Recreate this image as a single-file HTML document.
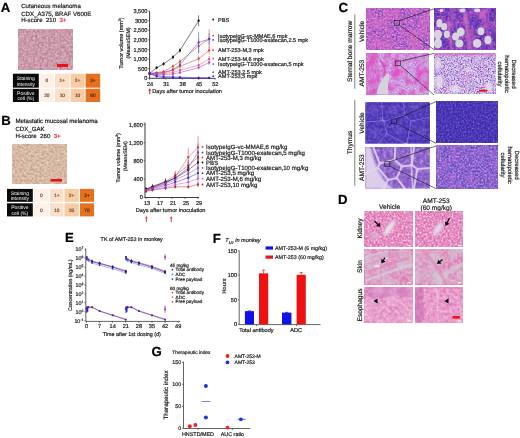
<!DOCTYPE html>
<html><head><meta charset="utf-8"><title>Figure</title>
<style>html,body{margin:0;padding:0;background:#fff;}body{width:520px;height:438px;overflow:hidden;}svg{display:block;}</style>
</head><body>
<svg width="520" height="438" viewBox="0 0 520 438" font-family="'Liberation Sans', Arial, sans-serif" fill="#1c1c1c" text-rendering="geometricPrecision"><defs><filter id="t1" x="0" y="0" width="100%" height="100%" color-interpolation-filters="sRGB"><feTurbulence type="fractalNoise" baseFrequency="0.45" numOctaves="2" seed="3"/><feColorMatrix type="matrix" values="1 0 0 0 0  1 0 0 0 0  1 0 0 0 0  0 0 0 0 1"/><feComponentTransfer><feFuncR type="table" tableValues="0.588 0.725 0.796 0.855 0.918"/><feFuncG type="table" tableValues="0.373 0.502 0.608 0.706 0.816"/><feFuncB type="table" tableValues="0.490 0.588 0.667 0.745 0.831"/></feComponentTransfer></filter><filter id="t2" x="0" y="0" width="100%" height="100%" color-interpolation-filters="sRGB"><feTurbulence type="fractalNoise" baseFrequency="0.45" numOctaves="2" seed="7"/><feColorMatrix type="matrix" values="1 0 0 0 0  1 0 0 0 0  1 0 0 0 0  0 0 0 0 1"/><feComponentTransfer><feFuncR type="table" tableValues="0.647 0.776 0.847 0.902 0.957"/><feFuncG type="table" tableValues="0.490 0.635 0.729 0.808 0.894"/><feFuncB type="table" tableValues="0.412 0.549 0.651 0.745 0.855"/></feComponentTransfer></filter><filter id="t3" x="0" y="0" width="100%" height="100%" color-interpolation-filters="sRGB"><feTurbulence type="fractalNoise" baseFrequency="0.55" numOctaves="2" seed="11"/><feColorMatrix type="matrix" values="1 0 0 0 0  1 0 0 0 0  1 0 0 0 0  0 0 0 0 1"/><feComponentTransfer><feFuncR type="table" tableValues="0.314 0.412 0.588 0.804 0.902 0.961"/><feFuncG type="table" tableValues="0.188 0.243 0.333 0.451 0.647 0.843"/><feFuncB type="table" tableValues="0.659 0.714 0.776 0.804 0.882 0.941"/></feComponentTransfer></filter><filter id="p4" x="0" y="0" width="100%" height="100%" color-interpolation-filters="sRGB"><feTurbulence type="fractalNoise" baseFrequency="0.1" numOctaves="2" seed="31"/><feColorMatrix type="matrix" values="0 0 0 0 0.871  0 0 0 0 0.431  0 0 0 0 0.776  1 0 0 0 0"/><feComponentTransfer><feFuncA type="table" tableValues="0 0 0.05 0.5 0.75 0.85"/></feComponentTransfer></filter><filter id="t5" x="0" y="0" width="100%" height="100%" color-interpolation-filters="sRGB"><feTurbulence type="fractalNoise" baseFrequency="0.5" numOctaves="2" seed="12"/><feColorMatrix type="matrix" values="1 0 0 0 0  1 0 0 0 0  1 0 0 0 0  0 0 0 0 1"/><feComponentTransfer><feFuncR type="table" tableValues="0.204 0.282 0.412 0.686 0.894"/><feFuncG type="table" tableValues="0.110 0.165 0.235 0.353 0.608"/><feFuncB type="table" tableValues="0.580 0.647 0.725 0.784 0.871"/></feComponentTransfer></filter><filter id="p6" x="0" y="0" width="100%" height="100%" color-interpolation-filters="sRGB"><feTurbulence type="fractalNoise" baseFrequency="0.1" numOctaves="2" seed="32"/><feColorMatrix type="matrix" values="0 0 0 0 0.871  0 0 0 0 0.412  0 0 0 0 0.769  1 0 0 0 0"/><feComponentTransfer><feFuncA type="table" tableValues="0 0 0 0.35 0.8 0.9"/></feComponentTransfer></filter><clipPath id="c7"><rect x="434.00" y="8.50" width="61.30" height="40.90"/></clipPath><filter id="t8" x="0" y="0" width="100%" height="100%" color-interpolation-filters="sRGB"><feTurbulence type="fractalNoise" baseFrequency="0.6" numOctaves="2" seed="13"/><feColorMatrix type="matrix" values="1 0 0 0 0  1 0 0 0 0  1 0 0 0 0  0 0 0 0 1"/><feComponentTransfer><feFuncR type="table" tableValues="0.588 0.725 0.804 0.871 0.941"/><feFuncG type="table" tableValues="0.373 0.510 0.627 0.737 0.855"/><feFuncB type="table" tableValues="0.765 0.843 0.882 0.918 0.957"/></feComponentTransfer></filter><filter id="p9" x="0" y="0" width="100%" height="100%" color-interpolation-filters="sRGB"><feTurbulence type="fractalNoise" baseFrequency="0.13" numOctaves="3" seed="33"/><feColorMatrix type="matrix" values="0 0 0 0 0.886  0 0 0 0 0.275  0 0 0 0 0.753  1 0 0 0 0"/><feComponentTransfer><feFuncA type="table" tableValues="0 0 0.0 0.5 0.85 0.9"/></feComponentTransfer></filter><clipPath id="c10"><rect x="366.20" y="53.10" width="62.80" height="41.30"/></clipPath><filter id="t11" x="0" y="0" width="100%" height="100%" color-interpolation-filters="sRGB"><feTurbulence type="fractalNoise" baseFrequency="0.7" numOctaves="2" seed="14"/><feColorMatrix type="matrix" values="1 0 0 0 0  1 0 0 0 0  1 0 0 0 0  0 0 0 0 1"/><feComponentTransfer><feFuncR type="table" tableValues="0.314 0.431 0.686 0.871 0.941 0.973"/><feFuncG type="table" tableValues="0.165 0.259 0.549 0.804 0.910 0.961"/><feFuncB type="table" tableValues="0.608 0.706 0.855 0.933 0.965 0.980"/></feComponentTransfer></filter><filter id="p12" x="0" y="0" width="100%" height="100%" color-interpolation-filters="sRGB"><feTurbulence type="fractalNoise" baseFrequency="0.1" numOctaves="2" seed="34"/><feColorMatrix type="matrix" values="0 0 0 0 0.843  0 0 0 0 0.471  0 0 0 0 0.804  1 0 0 0 0"/><feComponentTransfer><feFuncA type="table" tableValues="0 0 0 0.25 0.5"/></feComponentTransfer></filter><clipPath id="c13"><rect x="434.00" y="53.00" width="61.30" height="40.80"/></clipPath><filter id="bl1" x="-20%" y="-20%" width="140%" height="140%"><feGaussianBlur stdDeviation="0.8"/></filter><filter id="bl2" x="-50%" y="-50%" width="200%" height="200%"><feGaussianBlur stdDeviation="2.2"/></filter><clipPath id="c14"><rect x="365.40" y="102.30" width="64.40" height="41.30"/></clipPath><clipPath id="c15"><path d="M323.3,192.2 L323.3,192.4 L323.3,192.7 L323.4,192.9 L323.5,193.2 L323.6,193.4 L323.7,193.6 L323.9,193.8 L324.0,194.0 L324.2,194.1 L324.4,194.3 L324.6,194.4 L324.8,194.5 L325.1,194.6 L325.3,194.7 L325.6,194.7 L325.8,194.7 L332.6,194.7 L332.8,194.7 L333.0,194.7 L333.3,194.6 L333.5,194.5 L333.7,194.4 L333.9,194.3 L334.1,194.2 L334.3,194.0 L334.5,193.8 L385.4,134.4 L385.6,134.2 L385.7,134.0 L385.8,133.8 L385.9,133.5 L386.0,133.3 L386.0,133.1 L386.0,132.8 L386.0,132.6 L386.0,132.4 L386.0,132.1 L383.7,123.0 L383.6,122.8 L383.5,122.6 L383.4,122.3 L383.3,122.1 L383.1,121.9 L382.9,121.8 L382.7,121.6 L382.5,121.5 L382.3,121.4 L382.1,121.3 L381.8,121.2 L381.6,121.2 L381.3,121.1 L381.1,121.2 L325.6,125.6 L325.4,125.6 L325.1,125.7 L324.9,125.8 L324.7,125.9 L324.4,126.0 L324.2,126.1 L324.0,126.3 L323.9,126.5 L323.7,126.7 L323.6,126.9 L323.5,127.1 L323.4,127.4 L323.3,127.6 L323.3,127.8 L323.3,128.1 L323.3,192.2Z M325.8,58.3 L325.6,58.3 L325.3,58.3 L325.1,58.4 L324.8,58.5 L324.6,58.6 L324.4,58.7 L324.2,58.9 L324.0,59.0 L323.9,59.2 L323.7,59.4 L323.6,59.6 L323.5,59.8 L323.4,60.1 L323.3,60.3 L323.3,60.6 L323.3,60.8 L323.3,122.5 L323.3,122.7 L323.3,122.9 L323.4,123.2 L323.5,123.4 L323.6,123.6 L323.7,123.8 L323.9,124.0 L324.0,124.2 L324.2,124.4 L324.4,124.5 L324.6,124.7 L324.8,124.8 L325.0,124.8 L325.3,124.9 L325.5,125.0 L325.8,125.0 L326.0,125.0 L379.9,120.6 L380.1,120.6 L380.4,120.6 L380.6,120.5 L380.8,120.4 L381.0,120.3 L381.2,120.1 L381.4,120.0 L381.6,119.8 L381.7,119.6 L381.8,119.4 L382.0,119.2 L382.0,119.0 L382.1,118.7 L382.2,118.5 L382.2,118.3 L382.2,118.0 L379.3,60.7 L379.3,60.4 L379.2,60.2 L379.2,59.9 L379.1,59.7 L378.9,59.5 L378.8,59.3 L378.6,59.1 L378.4,58.9 L378.2,58.7 L378.0,58.6 L377.8,58.5 L377.6,58.4 L377.3,58.4 L377.1,58.3 L376.8,58.3 L325.8,58.3Z M382.4,58.3 L382.2,58.3 L381.9,58.3 L381.7,58.4 L381.5,58.5 L381.3,58.6 L381.1,58.7 L380.9,58.8 L380.7,59.0 L380.5,59.2 L380.4,59.4 L380.3,59.6 L380.1,59.8 L380.1,60.0 L380.0,60.2 L379.9,60.4 L379.9,60.7 L379.9,60.9 L382.8,118.1 L382.8,118.4 L382.9,118.6 L382.9,118.9 L383.0,119.1 L383.2,119.3 L383.3,119.5 L383.5,119.7 L383.6,119.9 L383.8,120.0 L384.0,120.2 L384.3,120.3 L384.5,120.4 L384.8,120.4 L385.0,120.5 L385.3,120.5 L385.5,120.5 L385.8,120.4 L386.0,120.4 L402.2,115.5 L402.4,115.5 L402.6,115.3 L402.8,115.2 L403.0,115.1 L403.2,114.9 L403.4,114.7 L403.5,114.5 L403.7,114.3 L403.8,114.0 L403.8,113.8 L403.9,113.5 L403.9,113.3 L403.9,113.0 L401.7,60.7 L401.7,60.5 L401.7,60.2 L401.6,60.0 L401.5,59.8 L401.4,59.6 L401.3,59.4 L401.1,59.2 L401.0,59.0 L400.8,58.8 L400.6,58.7 L400.4,58.6 L400.2,58.5 L400.0,58.4 L399.7,58.3 L399.5,58.3 L399.3,58.3 L382.4,58.3Z M424.0,194.7 L424.3,194.7 L424.5,194.7 L424.8,194.6 L425.0,194.5 L425.2,194.4 L425.4,194.3 L425.6,194.1 L425.8,194.0 L426.0,193.8 L426.1,193.6 L426.2,193.4 L426.3,193.1 L426.4,192.9 L426.5,192.7 L426.5,192.4 L426.5,192.2 L426.5,191.9 L426.5,191.7 L426.4,191.5 L426.3,191.2 L407.0,145.7 L406.9,145.5 L406.8,145.3 L406.7,145.1 L406.5,145.0 L406.3,144.8 L406.1,144.7 L405.9,144.5 L388.5,134.8 L388.2,134.7 L388.0,134.6 L387.8,134.6 L387.5,134.5 L387.3,134.5 L387.1,134.5 L386.8,134.5 L386.6,134.6 L386.3,134.7 L386.1,134.8 L385.9,134.9 L385.7,135.0 L385.5,135.2 L385.4,135.4 L338.0,190.6 L337.9,190.8 L337.8,191.0 L337.7,191.2 L337.6,191.4 L337.5,191.7 L337.5,191.9 L337.4,192.2 L337.5,192.4 L337.5,192.7 L337.5,192.9 L337.6,193.1 L337.7,193.4 L337.9,193.6 L338.0,193.8 L338.2,194.0 L338.3,194.1 L338.5,194.3 L338.8,194.4 L339.0,194.5 L339.2,194.6 L339.5,194.7 L339.7,194.7 L339.9,194.7 L424.0,194.7Z M403.6,142.6 L403.9,142.7 L404.1,142.8 L404.3,142.8 L404.6,142.9 L404.8,142.9 L405.1,142.9 L405.3,142.8 L405.6,142.8 L405.8,142.7 L406.0,142.6 L406.3,142.5 L406.5,142.3 L406.6,142.1 L406.8,141.9 L407.0,141.7 L407.1,141.5 L407.2,141.3 L407.3,141.1 L407.3,140.8 L410.5,122.5 L410.5,122.3 L410.5,122.0 L410.5,121.8 L410.5,121.6 L410.4,121.3 L410.3,121.1 L410.2,120.9 L410.1,120.7 L410.0,120.5 L409.8,120.3 L409.7,120.2 L405.3,116.4 L405.1,116.3 L404.9,116.1 L404.7,116.0 L404.4,115.9 L404.2,115.9 L403.9,115.8 L403.7,115.8 L403.4,115.8 L403.2,115.9 L402.9,115.9 L386.3,120.9 L386.0,121.0 L385.8,121.1 L385.6,121.2 L385.4,121.4 L385.2,121.5 L385.1,121.7 L384.9,121.9 L384.8,122.1 L384.7,122.3 L384.6,122.5 L384.5,122.8 L384.5,123.0 L384.5,123.2 L384.5,123.5 L384.5,123.7 L384.5,123.9 L386.6,132.2 L386.7,132.4 L386.8,132.7 L386.9,132.9 L387.1,133.1 L387.2,133.3 L387.4,133.5 L387.6,133.6 L387.8,133.8 L403.6,142.6Z M467.2,194.7 L467.4,194.7 L467.7,194.7 L467.9,194.6 L468.2,194.5 L468.4,194.4 L468.6,194.3 L468.8,194.1 L469.0,194.0 L469.1,193.8 L469.3,193.6 L469.4,193.4 L469.5,193.2 L469.6,192.9 L469.7,192.7 L469.7,192.4 L469.7,192.2 L469.7,112.6 L469.7,112.4 L469.7,112.1 L469.6,111.9 L469.5,111.7 L469.4,111.4 L469.3,111.2 L469.1,111.0 L469.0,110.8 L468.8,110.7 L468.6,110.5 L468.4,110.4 L468.2,110.3 L467.9,110.2 L467.7,110.2 L467.4,110.1 L467.2,110.1 L467.0,110.1 L466.7,110.2 L413.0,120.9 L412.8,121.0 L412.5,121.1 L412.3,121.2 L412.1,121.3 L411.9,121.4 L411.7,121.6 L411.5,121.8 L411.4,122.0 L411.3,122.2 L411.2,122.4 L411.1,122.7 L411.0,122.9 L407.4,144.0 L407.3,144.2 L407.3,144.5 L407.4,144.7 L407.4,144.9 L407.5,145.2 L407.5,145.4 L427.8,193.2 L427.9,193.4 L428.0,193.6 L428.2,193.8 L428.4,194.0 L428.5,194.1 L428.7,194.3 L428.9,194.4 L429.2,194.5 L429.4,194.6 L429.6,194.7 L429.9,194.7 L430.1,194.7 L467.2,194.7Z M469.7,60.8 L469.7,60.6 L469.7,60.3 L469.6,60.1 L469.5,59.8 L469.4,59.6 L469.3,59.4 L469.1,59.2 L469.0,59.0 L468.8,58.9 L468.6,58.7 L468.4,58.6 L468.2,58.5 L467.9,58.4 L467.7,58.3 L467.4,58.3 L467.2,58.3 L404.9,58.3 L404.6,58.3 L404.4,58.4 L404.1,58.4 L403.9,58.5 L403.6,58.6 L403.4,58.7 L403.2,58.9 L403.1,59.1 L402.9,59.3 L402.7,59.5 L402.6,59.7 L402.5,59.9 L402.4,60.2 L402.4,60.4 L402.4,60.7 L402.4,60.9 L404.6,114.0 L404.6,114.2 L404.6,114.5 L404.7,114.7 L404.8,115.0 L404.9,115.2 L405.1,115.4 L405.3,115.6 L405.4,115.8 L410.2,119.9 L410.4,120.0 L410.6,120.2 L410.9,120.3 L411.1,120.4 L411.3,120.4 L411.6,120.5 L411.8,120.5 L412.1,120.5 L412.3,120.4 L467.7,109.4 L467.9,109.3 L468.2,109.2 L468.4,109.1 L468.6,109.0 L468.8,108.8 L469.0,108.7 L469.1,108.5 L469.3,108.3 L469.4,108.1 L469.5,107.9 L469.6,107.6 L469.7,107.4 L469.7,107.1 L469.7,106.9 L469.7,60.8Z"/></clipPath><filter id="t16" x="0" y="0" width="100%" height="100%" color-interpolation-filters="sRGB"><feTurbulence type="fractalNoise" baseFrequency="0.35" numOctaves="2" seed="15"/><feColorMatrix type="matrix" values="1 0 0 0 0  1 0 0 0 0  1 0 0 0 0  0 0 0 0 1"/><feComponentTransfer><feFuncR type="table" tableValues="0.204 0.267 0.329 0.416 0.612"/><feFuncG type="table" tableValues="0.133 0.184 0.235 0.322 0.533"/><feFuncB type="table" tableValues="0.620 0.678 0.733 0.784 0.871"/></feComponentTransfer></filter><clipPath id="c17"><rect x="365.40" y="102.30" width="64.40" height="41.30"/></clipPath><filter id="t18" x="0" y="0" width="100%" height="100%" color-interpolation-filters="sRGB"><feTurbulence type="fractalNoise" baseFrequency="0.6" numOctaves="2" seed="16"/><feColorMatrix type="matrix" values="1 0 0 0 0  1 0 0 0 0  1 0 0 0 0  0 0 0 0 1"/><feComponentTransfer><feFuncR type="table" tableValues="0.165 0.227 0.298 0.408 0.627"/><feFuncG type="table" tableValues="0.102 0.149 0.212 0.329 0.549"/><feFuncB type="table" tableValues="0.580 0.651 0.714 0.784 0.894"/></feComponentTransfer></filter><clipPath id="c19"><rect x="365.40" y="147.00" width="64.40" height="41.60"/></clipPath><clipPath id="c20"><path d="M315.5,98.0 L315.3,98.0 L315.0,98.0 L314.8,98.1 L314.5,98.2 L314.3,98.3 L314.1,98.4 L313.9,98.6 L313.7,98.7 L313.6,98.9 L313.4,99.1 L313.3,99.3 L313.2,99.5 L313.1,99.8 L313.0,100.0 L313.0,100.3 L313.0,100.5 L313.0,194.8 L313.0,195.1 L313.0,195.3 L313.1,195.6 L313.2,195.8 L313.3,196.0 L313.4,196.2 L313.6,196.4 L313.7,196.6 L313.9,196.8 L314.1,196.9 L314.3,197.0 L314.5,197.1 L314.7,197.2 L315.0,197.3 L315.2,197.3 L315.4,197.3 L315.7,197.3 L315.9,197.3 L316.2,197.2 L316.4,197.2 L316.6,197.1 L376.3,167.2 L376.5,167.1 L376.7,167.0 L376.9,166.8 L377.0,166.7 L377.2,166.5 L377.3,166.3 L377.4,166.0 L378.2,164.4 L378.3,164.1 L378.3,163.9 L378.4,163.7 L378.4,163.4 L378.4,163.2 L378.4,162.9 L378.3,162.7 L378.2,162.4 L353.8,99.6 L353.7,99.4 L353.6,99.1 L353.4,98.9 L353.3,98.8 L353.1,98.6 L352.9,98.4 L352.7,98.3 L352.4,98.2 L352.2,98.1 L352.0,98.0 L351.7,98.0 L351.5,98.0 L315.5,98.0Z M359.0,98.0 L358.7,98.0 L358.5,98.0 L358.3,98.1 L358.0,98.2 L357.8,98.3 L357.6,98.4 L357.4,98.6 L357.2,98.7 L357.1,98.9 L356.9,99.1 L356.8,99.3 L356.7,99.5 L356.6,99.7 L356.5,100.0 L356.5,100.2 L356.5,100.5 L356.5,100.7 L356.5,100.9 L356.6,101.2 L356.6,101.4 L379.5,160.3 L379.6,160.5 L379.7,160.7 L379.9,160.9 L380.0,161.1 L380.2,161.2 L380.4,161.4 L380.6,161.5 L380.8,161.6 L381.0,161.7 L381.3,161.8 L381.5,161.8 L381.7,161.8 L382.0,161.8 L382.2,161.8 L382.4,161.8 L391.9,159.6 L392.1,159.5 L392.3,159.4 L392.6,159.3 L392.8,159.2 L393.0,159.0 L393.1,158.8 L393.3,158.6 L393.4,158.4 L393.5,158.2 L393.6,158.0 L393.7,157.8 L393.8,157.5 L393.8,157.3 L396.9,100.6 L396.9,100.4 L396.9,100.2 L396.9,99.9 L396.8,99.7 L396.7,99.5 L396.6,99.3 L396.5,99.1 L396.3,98.9 L396.2,98.7 L396.0,98.5 L395.8,98.4 L395.6,98.3 L395.4,98.2 L395.1,98.1 L394.9,98.0 L394.7,98.0 L394.4,98.0 L359.0,98.0Z M313.0,240.5 L313.0,240.7 L313.0,241.0 L313.1,241.2 L313.2,241.5 L313.3,241.7 L313.4,241.9 L313.6,242.1 L313.7,242.3 L313.9,242.4 L314.1,242.6 L314.3,242.7 L314.5,242.8 L314.8,242.9 L315.0,243.0 L315.3,243.0 L315.5,243.0 L353.8,243.0 L354.1,243.0 L354.3,242.9 L354.6,242.9 L354.8,242.8 L355.0,242.7 L355.3,242.6 L355.5,242.4 L355.6,242.2 L355.8,242.0 L355.9,241.8 L356.1,241.6 L386.1,181.5 L386.2,181.3 L386.3,181.0 L386.4,180.8 L386.4,180.6 L386.4,180.3 L386.4,180.1 L386.4,179.8 L386.3,179.6 L386.2,179.4 L386.1,179.2 L386.0,178.9 L385.8,178.8 L378.8,170.4 L378.7,170.2 L378.5,170.0 L378.3,169.9 L378.1,169.8 L377.9,169.7 L377.7,169.6 L377.4,169.5 L377.2,169.5 L376.9,169.5 L376.7,169.5 L376.5,169.5 L376.2,169.6 L376.0,169.6 L375.8,169.7 L314.4,200.4 L314.2,200.6 L314.0,200.7 L313.8,200.9 L313.6,201.0 L313.4,201.2 L313.3,201.5 L313.2,201.7 L313.1,201.9 L313.1,202.2 L313.0,202.4 L313.0,202.7 L313.0,240.5Z M395.3,161.9 L395.2,161.7 L395.0,161.6 L394.7,161.5 L394.5,161.4 L394.3,161.3 L394.1,161.3 L393.8,161.3 L393.6,161.3 L393.4,161.3 L393.1,161.3 L381.6,164.0 L381.4,164.1 L381.1,164.2 L380.9,164.3 L380.7,164.5 L380.5,164.6 L380.3,164.8 L380.2,165.0 L380.0,165.2 L379.9,165.4 L379.6,166.0 L379.5,166.2 L379.5,166.5 L379.4,166.7 L379.4,167.0 L379.4,167.2 L379.5,167.5 L379.5,167.7 L379.6,168.0 L379.7,168.2 L379.8,168.4 L380.0,168.6 L387.5,177.6 L387.6,177.8 L387.8,177.9 L388.0,178.1 L388.2,178.2 L388.5,178.3 L388.7,178.4 L388.9,178.5 L389.2,178.5 L389.4,178.5 L389.7,178.5 L389.9,178.4 L394.7,177.4 L395.0,177.3 L395.2,177.2 L395.4,177.1 L395.7,177.0 L395.9,176.8 L396.0,176.6 L396.2,176.4 L396.3,176.2 L396.5,176.0 L400.0,168.4 L400.1,168.2 L400.2,167.9 L400.2,167.7 L400.3,167.4 L400.3,167.2 L400.2,166.9 L400.2,166.7 L400.1,166.5 L400.0,166.2 L399.9,166.0 L399.8,165.8 L399.6,165.6 L399.4,165.4 L395.3,161.9Z M418.5,243.0 L418.7,243.0 L419.0,243.0 L419.2,242.9 L419.4,242.8 L419.7,242.7 L419.9,242.6 L420.1,242.4 L420.3,242.2 L420.4,242.1 L420.6,241.9 L420.7,241.6 L420.8,241.4 L420.9,241.2 L420.9,240.9 L421.0,240.7 L421.0,240.4 L421.0,240.2 L420.9,239.9 L411.4,199.2 L411.3,198.9 L411.2,198.7 L411.1,198.4 L410.9,198.2 L397.2,180.3 L397.0,180.2 L396.9,180.0 L396.7,179.9 L396.5,179.7 L396.3,179.6 L396.1,179.5 L395.8,179.5 L395.6,179.4 L395.4,179.4 L395.1,179.4 L394.9,179.4 L394.7,179.4 L389.9,180.5 L389.7,180.6 L389.4,180.6 L389.2,180.8 L389.0,180.9 L388.8,181.0 L388.6,181.2 L388.5,181.4 L388.3,181.6 L388.2,181.8 L359.4,239.4 L359.3,239.6 L359.3,239.8 L359.2,240.1 L359.2,240.3 L359.2,240.6 L359.2,240.8 L359.2,241.0 L359.3,241.3 L359.4,241.5 L359.5,241.7 L359.6,241.9 L359.7,242.1 L359.9,242.3 L360.1,242.4 L360.3,242.6 L360.5,242.7 L360.7,242.8 L360.9,242.9 L361.2,243.0 L361.4,243.0 L361.7,243.0 L418.5,243.0Z M404.1,167.2 L403.9,167.2 L403.6,167.3 L403.4,167.4 L403.2,167.5 L402.9,167.6 L402.7,167.8 L402.6,168.0 L402.4,168.2 L402.3,168.4 L402.1,168.6 L398.4,176.5 L398.4,176.7 L398.3,176.9 L398.2,177.2 L398.2,177.4 L398.2,177.7 L398.2,177.9 L398.3,178.2 L398.4,178.4 L398.5,178.6 L398.6,178.8 L398.7,179.1 L408.2,191.3 L408.3,191.5 L408.5,191.7 L408.7,191.8 L408.9,191.9 L409.1,192.0 L409.3,192.1 L409.5,192.2 L409.8,192.3 L410.0,192.3 L410.3,192.3 L410.5,192.3 L410.7,192.2 L411.0,192.1 L411.2,192.0 L411.4,191.9 L411.6,191.8 L411.8,191.7 L412.0,191.5 L412.1,191.3 L412.2,191.1 L412.4,190.9 L412.5,190.7 L412.5,190.4 L412.6,190.2 L416.0,171.0 L416.0,170.8 L416.0,170.5 L416.0,170.3 L416.0,170.1 L415.9,169.8 L415.8,169.6 L415.7,169.4 L415.6,169.2 L415.5,169.0 L415.3,168.8 L415.1,168.6 L414.9,168.5 L412.4,166.8 L412.2,166.6 L411.9,166.5 L411.7,166.4 L411.4,166.4 L411.2,166.3 L410.9,166.3 L410.7,166.4 L404.1,167.2Z M401.4,98.0 L401.2,98.0 L400.9,98.1 L400.7,98.1 L400.5,98.2 L400.2,98.3 L400.0,98.4 L399.8,98.6 L399.6,98.8 L399.5,99.0 L399.3,99.2 L399.2,99.4 L399.1,99.6 L399.0,99.9 L399.0,100.1 L399.0,100.4 L395.7,158.3 L395.7,158.5 L395.8,158.8 L395.8,159.0 L395.9,159.3 L396.0,159.5 L396.1,159.7 L396.2,159.9 L396.4,160.1 L396.6,160.3 L401.5,164.6 L401.7,164.8 L401.9,164.9 L402.1,165.0 L402.3,165.1 L402.6,165.2 L402.8,165.2 L403.0,165.3 L403.3,165.3 L403.5,165.2 L409.0,164.6 L409.2,164.5 L409.5,164.5 L409.7,164.4 L409.9,164.3 L410.1,164.1 L410.3,164.0 L410.5,163.8 L410.6,163.7 L410.8,163.5 L410.9,163.3 L411.0,163.0 L411.1,162.8 L411.1,162.6 L411.2,162.3 L418.0,100.8 L418.0,100.5 L418.0,100.3 L418.0,100.0 L417.9,99.8 L417.9,99.6 L417.7,99.3 L417.6,99.1 L417.5,98.9 L417.3,98.7 L417.1,98.6 L416.9,98.4 L416.7,98.3 L416.5,98.2 L416.3,98.1 L416.0,98.0 L415.8,98.0 L415.5,98.0 L401.4,98.0Z M476.5,243.0 L476.7,243.0 L477.0,243.0 L477.2,242.9 L477.5,242.8 L477.7,242.7 L477.9,242.6 L478.1,242.4 L478.3,242.3 L478.4,242.1 L478.6,241.9 L478.7,241.7 L478.8,241.5 L478.9,241.2 L479.0,241.0 L479.0,240.7 L479.0,240.5 L479.0,167.7 L479.0,167.5 L479.0,167.2 L478.9,167.0 L478.8,166.8 L478.7,166.6 L478.6,166.4 L478.4,166.2 L478.3,166.0 L478.1,165.8 L477.9,165.7 L477.7,165.5 L477.5,165.4 L477.3,165.3 L477.0,165.3 L476.8,165.2 L476.5,165.2 L476.3,165.2 L420.1,169.7 L419.9,169.8 L419.6,169.8 L419.4,169.9 L419.2,170.0 L419.0,170.1 L418.8,170.3 L418.6,170.5 L418.4,170.7 L418.2,170.9 L418.1,171.1 L418.0,171.3 L417.9,171.5 L417.9,171.8 L413.3,197.7 L413.3,197.9 L413.3,198.2 L413.3,198.4 L413.3,198.7 L423.2,241.1 L423.3,241.3 L423.4,241.5 L423.5,241.7 L423.6,241.9 L423.8,242.1 L423.9,242.3 L424.1,242.5 L424.3,242.6 L424.5,242.7 L424.7,242.8 L425.0,242.9 L425.2,243.0 L425.4,243.0 L425.7,243.0 L476.5,243.0Z M479.0,100.5 L479.0,100.3 L479.0,100.0 L478.9,99.8 L478.8,99.5 L478.7,99.3 L478.6,99.1 L478.4,98.9 L478.3,98.7 L478.1,98.6 L477.9,98.4 L477.7,98.3 L477.5,98.2 L477.2,98.1 L477.0,98.0 L476.7,98.0 L476.5,98.0 L422.6,98.0 L422.3,98.0 L422.1,98.0 L421.9,98.1 L421.6,98.2 L421.4,98.3 L421.2,98.4 L421.0,98.6 L420.8,98.7 L420.7,98.9 L420.5,99.1 L420.4,99.3 L420.3,99.5 L420.2,99.7 L420.1,100.0 L420.1,100.2 L413.1,163.2 L413.1,163.5 L413.1,163.7 L413.1,164.0 L413.2,164.2 L413.3,164.4 L413.4,164.7 L413.5,164.9 L413.6,165.1 L413.8,165.2 L414.0,165.4 L414.2,165.6 L416.9,167.4 L417.1,167.6 L417.3,167.7 L417.6,167.7 L417.8,167.8 L418.0,167.8 L418.3,167.9 L418.5,167.9 L476.7,163.2 L476.9,163.2 L477.2,163.1 L477.4,163.0 L477.6,162.9 L477.9,162.8 L478.1,162.7 L478.3,162.5 L478.4,162.3 L478.6,162.1 L478.7,161.9 L478.8,161.7 L478.9,161.4 L479.0,161.2 L479.0,161.0 L479.0,160.7 L479.0,100.5Z"/></clipPath><filter id="t21" x="0" y="0" width="100%" height="100%" color-interpolation-filters="sRGB"><feTurbulence type="fractalNoise" baseFrequency="0.3" numOctaves="2" seed="17"/><feColorMatrix type="matrix" values="1 0 0 0 0  1 0 0 0 0  1 0 0 0 0  0 0 0 0 1"/><feComponentTransfer><feFuncR type="table" tableValues="0.392 0.486 0.557 0.675 0.816"/><feFuncG type="table" tableValues="0.235 0.329 0.400 0.518 0.714"/><feFuncB type="table" tableValues="0.690 0.745 0.792 0.847 0.910"/></feComponentTransfer></filter><clipPath id="c22"><rect x="365.40" y="147.00" width="64.40" height="41.60"/></clipPath><filter id="t23" x="0" y="0" width="100%" height="100%" color-interpolation-filters="sRGB"><feTurbulence type="fractalNoise" baseFrequency="0.55" numOctaves="2" seed="18"/><feColorMatrix type="matrix" values="1 0 0 0 0  1 0 0 0 0  1 0 0 0 0  0 0 0 0 1"/><feComponentTransfer><feFuncR type="table" tableValues="0.267 0.376 0.518 0.714 0.894"/><feFuncG type="table" tableValues="0.157 0.251 0.384 0.580 0.800"/><feFuncB type="table" tableValues="0.647 0.725 0.804 0.886 0.949"/></feComponentTransfer></filter><filter id="p24" x="0" y="0" width="100%" height="100%" color-interpolation-filters="sRGB"><feTurbulence type="fractalNoise" baseFrequency="0.12" numOctaves="2" seed="37"/><feColorMatrix type="matrix" values="0 0 0 0 0.784  0 0 0 0 0.471  0 0 0 0 0.843  1 0 0 0 0"/><feComponentTransfer><feFuncA type="table" tableValues="0 0 0.1 0.4 0.5"/></feComponentTransfer></filter><filter id="t25" x="0" y="0" width="100%" height="100%" color-interpolation-filters="sRGB"><feTurbulence type="fractalNoise" baseFrequency="0.5" numOctaves="2" seed="21"/><feColorMatrix type="matrix" values="1 0 0 0 0  1 0 0 0 0  1 0 0 0 0  0 0 0 0 1"/><feComponentTransfer><feFuncR type="table" tableValues="0.769 0.831 0.878 0.925 0.973 0.988"/><feFuncG type="table" tableValues="0.306 0.392 0.486 0.627 0.843 0.941"/><feFuncB type="table" tableValues="0.612 0.667 0.722 0.800 0.922 0.973"/></feComponentTransfer></filter><clipPath id="c26"><rect x="364.70" y="211.90" width="47.90" height="35.00"/></clipPath><filter id="t27" x="0" y="0" width="100%" height="100%" color-interpolation-filters="sRGB"><feTurbulence type="fractalNoise" baseFrequency="0.5" numOctaves="2" seed="22"/><feColorMatrix type="matrix" values="1 0 0 0 0  1 0 0 0 0  1 0 0 0 0  0 0 0 0 1"/><feComponentTransfer><feFuncR type="table" tableValues="0.769 0.831 0.878 0.925 0.973 0.988"/><feFuncG type="table" tableValues="0.306 0.392 0.486 0.627 0.843 0.941"/><feFuncB type="table" tableValues="0.612 0.667 0.722 0.800 0.922 0.973"/></feComponentTransfer></filter><clipPath id="c28"><rect x="415.00" y="211.90" width="47.90" height="35.00"/></clipPath><filter id="t29" x="0" y="0" width="100%" height="100%" color-interpolation-filters="sRGB"><feTurbulence type="fractalNoise" baseFrequency="0.35" numOctaves="2" seed="23"/><feColorMatrix type="matrix" values="1 0 0 0 0  1 0 0 0 0  1 0 0 0 0  0 0 0 0 1"/><feComponentTransfer><feFuncR type="table" tableValues="0.784 0.847 0.886 0.918 0.957"/><feFuncG type="table" tableValues="0.333 0.439 0.541 0.659 0.804"/><feFuncB type="table" tableValues="0.627 0.690 0.745 0.808 0.886"/></feComponentTransfer></filter><clipPath id="c30"><rect x="364.70" y="249.00" width="47.90" height="35.10"/></clipPath><filter id="p31" x="0" y="0" width="100%" height="100%" color-interpolation-filters="sRGB"><feTurbulence type="fractalNoise" baseFrequency="0.07" numOctaves="2" seed="41"/><feColorMatrix type="matrix" values="0 0 0 0 0.824  0 0 0 0 0.792  0 0 0 0 0.831  1 0 0 0 0"/><feComponentTransfer><feFuncA type="table" tableValues="0 0.1 0.45 0.8 0.9"/></feComponentTransfer></filter><filter id="t32" x="0" y="0" width="100%" height="100%" color-interpolation-filters="sRGB"><feTurbulence type="fractalNoise" baseFrequency="0.35" numOctaves="2" seed="24"/><feColorMatrix type="matrix" values="1 0 0 0 0  1 0 0 0 0  1 0 0 0 0  0 0 0 0 1"/><feComponentTransfer><feFuncR type="table" tableValues="0.784 0.847 0.886 0.918 0.957"/><feFuncG type="table" tableValues="0.333 0.439 0.541 0.659 0.804"/><feFuncB type="table" tableValues="0.627 0.690 0.745 0.808 0.886"/></feComponentTransfer></filter><clipPath id="c33"><rect x="415.00" y="249.00" width="47.90" height="35.10"/></clipPath><filter id="p34" x="0" y="0" width="100%" height="100%" color-interpolation-filters="sRGB"><feTurbulence type="fractalNoise" baseFrequency="0.07" numOctaves="2" seed="44"/><feColorMatrix type="matrix" values="0 0 0 0 0.824  0 0 0 0 0.792  0 0 0 0 0.831  1 0 0 0 0"/><feComponentTransfer><feFuncA type="table" tableValues="0 0.1 0.45 0.8 0.9"/></feComponentTransfer></filter><filter id="t35" x="0" y="0" width="100%" height="100%" color-interpolation-filters="sRGB"><feTurbulence type="fractalNoise" baseFrequency="0.3" numOctaves="2" seed="25"/><feColorMatrix type="matrix" values="1 0 0 0 0  1 0 0 0 0  1 0 0 0 0  0 0 0 0 1"/><feComponentTransfer><feFuncR type="table" tableValues="0.816 0.871 0.910 0.941 0.973"/><feFuncG type="table" tableValues="0.392 0.510 0.612 0.722 0.843"/><feFuncB type="table" tableValues="0.675 0.737 0.796 0.851 0.914"/></feComponentTransfer></filter><clipPath id="c36"><rect x="364.70" y="287.20" width="47.90" height="35.10"/></clipPath><filter id="p37" x="0" y="0" width="100%" height="100%" color-interpolation-filters="sRGB"><feTurbulence type="fractalNoise" baseFrequency="0.05" numOctaves="2" seed="43"/><feColorMatrix type="matrix" values="0 0 0 0 0.925  0 0 0 0 0.804  0 0 0 0 0.894  1 0 0 0 0"/><feComponentTransfer><feFuncA type="table" tableValues="0 0 0.1 0.5 0.7"/></feComponentTransfer></filter><filter id="t38" x="0" y="0" width="100%" height="100%" color-interpolation-filters="sRGB"><feTurbulence type="fractalNoise" baseFrequency="0.3" numOctaves="2" seed="26"/><feColorMatrix type="matrix" values="1 0 0 0 0  1 0 0 0 0  1 0 0 0 0  0 0 0 0 1"/><feComponentTransfer><feFuncR type="table" tableValues="0.816 0.871 0.910 0.941 0.973"/><feFuncG type="table" tableValues="0.392 0.510 0.612 0.722 0.843"/><feFuncB type="table" tableValues="0.675 0.737 0.796 0.851 0.914"/></feComponentTransfer></filter><clipPath id="c39"><rect x="415.00" y="287.20" width="47.90" height="35.10"/></clipPath></defs><text x="0.80" y="12.20" font-size="13.2" stroke="#000" stroke-width="0.2" fill="#000" font-weight="bold">A</text>
<text x="21.20" y="8.45" font-size="6.1" stroke="#1c1c1c" stroke-width="0.2">Cutaneous melanoma</text>
<text x="21.20" y="15.50" font-size="6.1" stroke="#1c1c1c" stroke-width="0.2">CDX_A375, BRAF V600E</text>
<text x="21.2" y="22.4" font-size="6.1" stroke="#1c1c1c" stroke-width="0.2">H-score&#160;&#160;210&#160;&#160;<tspan fill="#e8262a" stroke="#e8262a">3+</tspan></text>
<rect x="18.00" y="29.00" width="54.30" height="40.50" filter="url(#t1)"/>
<rect x="57.00" y="64.00" width="11.00" height="3.00" fill="#ee1111"/>
<rect x="12.90" y="73.70" width="25.90" height="14.00" fill="#0a0a0a"/>
<rect x="12.90" y="88.80" width="25.90" height="13.20" fill="#0a0a0a"/>
<text x="25.85" y="80.30" font-size="5.0" text-anchor="middle" fill="#f4f4f4">Staining</text>
<text x="25.85" y="85.60" font-size="5.0" text-anchor="middle" fill="#f4f4f4">intensity</text>
<text x="25.85" y="95.00" font-size="5.0" text-anchor="middle" fill="#f4f4f4">Positive</text>
<text x="25.85" y="100.30" font-size="5.0" text-anchor="middle" fill="#f4f4f4">cell (%)</text>
<rect x="39.80" y="73.70" width="14.00" height="14.00" fill="#fdf0e6"/>
<text x="46.80" y="82.40" font-size="4.8" stroke="#6a5040" stroke-width="0.2" text-anchor="middle" fill="#6a5040">0</text>
<rect x="39.80" y="88.80" width="14.00" height="13.20" fill="#fdf0e6"/>
<text x="46.80" y="97.10" font-size="4.8" stroke="#6a5040" stroke-width="0.2" text-anchor="middle" fill="#6a5040">20</text>
<rect x="55.00" y="73.70" width="14.60" height="14.00" fill="#fbdfc8"/>
<text x="62.30" y="82.40" font-size="4.8" stroke="#6a5040" stroke-width="0.2" text-anchor="middle" fill="#6a5040">1+</text>
<rect x="55.00" y="88.80" width="14.60" height="13.20" fill="#fbdfc8"/>
<text x="62.30" y="97.10" font-size="4.8" stroke="#6a5040" stroke-width="0.2" text-anchor="middle" fill="#6a5040">10</text>
<rect x="70.60" y="73.70" width="14.00" height="14.00" fill="#f8cba2"/>
<text x="77.60" y="82.40" font-size="4.8" stroke="#6a5040" stroke-width="0.2" text-anchor="middle" fill="#6a5040">2+</text>
<rect x="70.60" y="88.80" width="14.00" height="13.20" fill="#f8cba2"/>
<text x="77.60" y="97.10" font-size="4.8" stroke="#6a5040" stroke-width="0.2" text-anchor="middle" fill="#6a5040">10</text>
<rect x="85.60" y="73.70" width="14.60" height="14.00" fill="#e5711f"/>
<text x="92.90" y="82.40" font-size="4.8" stroke="#5a2a10" stroke-width="0.2" text-anchor="middle" fill="#5a2a10">3+</text>
<rect x="85.60" y="88.80" width="14.60" height="13.20" fill="#e5711f"/>
<text x="92.90" y="97.10" font-size="4.8" stroke="#5a2a10" stroke-width="0.2" text-anchor="middle" fill="#5a2a10">60</text>
<line x1="149.60" y1="11.00" x2="149.60" y2="78.30" stroke="#1a1a1a" stroke-width="0.85"/>
<line x1="149.60" y1="78.30" x2="215.50" y2="78.30" stroke="#1a1a1a" stroke-width="0.85"/>
<line x1="148.20" y1="78.30" x2="149.60" y2="78.30" stroke="#222" stroke-width="0.6"/>
<text x="147.40" y="80.30" font-size="5.6" stroke="#1c1c1c" stroke-width="0.2" text-anchor="end">0</text>
<line x1="148.20" y1="68.70" x2="149.60" y2="68.70" stroke="#222" stroke-width="0.6"/>
<text x="147.40" y="70.70" font-size="5.6" stroke="#1c1c1c" stroke-width="0.2" text-anchor="end">500</text>
<line x1="148.20" y1="59.10" x2="149.60" y2="59.10" stroke="#222" stroke-width="0.6"/>
<text x="147.40" y="61.10" font-size="5.6" stroke="#1c1c1c" stroke-width="0.2" text-anchor="end">1,000</text>
<line x1="148.20" y1="49.50" x2="149.60" y2="49.50" stroke="#222" stroke-width="0.6"/>
<text x="147.40" y="51.50" font-size="5.6" stroke="#1c1c1c" stroke-width="0.2" text-anchor="end">1,500</text>
<line x1="148.20" y1="39.90" x2="149.60" y2="39.90" stroke="#222" stroke-width="0.6"/>
<text x="147.40" y="41.90" font-size="5.6" stroke="#1c1c1c" stroke-width="0.2" text-anchor="end">2,000</text>
<line x1="148.20" y1="30.30" x2="149.60" y2="30.30" stroke="#222" stroke-width="0.6"/>
<text x="147.40" y="32.30" font-size="5.6" stroke="#1c1c1c" stroke-width="0.2" text-anchor="end">2,500</text>
<line x1="148.20" y1="20.70" x2="149.60" y2="20.70" stroke="#222" stroke-width="0.6"/>
<text x="147.40" y="22.70" font-size="5.6" stroke="#1c1c1c" stroke-width="0.2" text-anchor="end">3000</text>
<line x1="148.20" y1="11.10" x2="149.60" y2="11.10" stroke="#222" stroke-width="0.6"/>
<text x="147.40" y="13.10" font-size="5.6" stroke="#1c1c1c" stroke-width="0.2" text-anchor="end">3,500</text>
<line x1="149.60" y1="78.30" x2="149.60" y2="79.80" stroke="#222" stroke-width="0.6"/>
<text x="150.00" y="85.80" font-size="5.6" stroke="#1c1c1c" stroke-width="0.2" text-anchor="middle">24</text>
<line x1="165.94" y1="78.30" x2="165.94" y2="79.80" stroke="#222" stroke-width="0.6"/>
<text x="166.34" y="85.80" font-size="5.6" stroke="#1c1c1c" stroke-width="0.2" text-anchor="middle">31</text>
<line x1="182.29" y1="78.30" x2="182.29" y2="79.80" stroke="#222" stroke-width="0.6"/>
<text x="182.69" y="85.80" font-size="5.6" stroke="#1c1c1c" stroke-width="0.2" text-anchor="middle">38</text>
<line x1="198.63" y1="78.30" x2="198.63" y2="79.80" stroke="#222" stroke-width="0.6"/>
<text x="199.03" y="85.80" font-size="5.6" stroke="#1c1c1c" stroke-width="0.2" text-anchor="middle">45</text>
<line x1="214.98" y1="78.30" x2="214.98" y2="79.80" stroke="#222" stroke-width="0.6"/>
<text x="215.38" y="85.80" font-size="5.6" stroke="#1c1c1c" stroke-width="0.2" text-anchor="middle">52</text>
<text x="123.20" y="43.00" font-size="5.5" stroke="#1c1c1c" stroke-width="0.2" text-anchor="middle" transform="rotate(-90 123.20 43.00)">Tumor volume (mm<tspan font-size="3.6" dy="-2">3</tspan><tspan dy="2">)</tspan></text>
<text x="129.50" y="43.00" font-size="5.3" stroke="#1c1c1c" stroke-width="0.2" text-anchor="middle" transform="rotate(-90 129.50 43.00)">(Mean±SEM)</text>
<text x="152.30" y="93.30" font-size="5.6" stroke="#1c1c1c" stroke-width="0.2">Days after tumor inoculation</text>
<path d="M149.8,88.3 l-1.4,2.4 h0.9 v3.6 h1 v-3.6 h0.9 z" fill="#e31a1c"/>
<polyline points="149.60,73.50 156.60,67.74 163.61,63.90 172.95,57.18 179.95,50.46 198.63,20.70" fill="none" stroke="#111111" stroke-width="0.55"/>
<line x1="149.60" y1="72.92" x2="149.60" y2="74.08" stroke="#111111" stroke-width="0.55"/>
<circle cx="149.60" cy="73.50" r="1.15" fill="#111111"/>
<line x1="156.60" y1="66.20" x2="156.60" y2="69.28" stroke="#111111" stroke-width="0.55"/>
<circle cx="156.60" cy="67.74" r="1.15" fill="#111111"/>
<line x1="163.61" y1="61.98" x2="163.61" y2="65.82" stroke="#111111" stroke-width="0.55"/>
<circle cx="163.61" cy="63.90" r="1.15" fill="#111111"/>
<line x1="172.95" y1="54.88" x2="172.95" y2="59.48" stroke="#111111" stroke-width="0.55"/>
<circle cx="172.95" cy="57.18" r="1.15" fill="#111111"/>
<line x1="179.95" y1="47.96" x2="179.95" y2="52.96" stroke="#111111" stroke-width="0.55"/>
<circle cx="179.95" cy="50.46" r="1.15" fill="#111111"/>
<line x1="198.63" y1="15.32" x2="198.63" y2="26.08" stroke="#111111" stroke-width="0.55"/>
<circle cx="198.63" cy="20.70" r="1.15" fill="#111111"/>
<circle cx="213.20" cy="19.50" r="0.90" fill="#111111"/>
<text x="218.10" y="21.50" font-size="5.55" stroke="#1c1c1c" stroke-width="0.2">PBS</text>
<polyline points="149.60,73.50 156.60,72.54 163.61,71.58 172.95,66.40 179.95,61.60 198.63,46.04 209.14,38.94" fill="none" stroke="#e8383a" stroke-width="0.55"/>
<line x1="149.60" y1="72.92" x2="149.60" y2="74.08" stroke="#e8383a" stroke-width="0.55"/>
<circle cx="149.60" cy="73.50" r="1.15" fill="#e8383a"/>
<line x1="156.60" y1="71.77" x2="156.60" y2="73.31" stroke="#e8383a" stroke-width="0.55"/>
<circle cx="156.60" cy="72.54" r="1.15" fill="#e8383a"/>
<line x1="163.61" y1="70.43" x2="163.61" y2="72.73" stroke="#e8383a" stroke-width="0.55"/>
<circle cx="163.61" cy="71.58" r="1.15" fill="#e8383a"/>
<line x1="172.95" y1="64.48" x2="172.95" y2="68.32" stroke="#e8383a" stroke-width="0.55"/>
<circle cx="172.95" cy="66.40" r="1.15" fill="#e8383a"/>
<line x1="179.95" y1="58.72" x2="179.95" y2="64.48" stroke="#e8383a" stroke-width="0.55"/>
<circle cx="179.95" cy="61.60" r="1.15" fill="#e8383a"/>
<line x1="198.63" y1="38.36" x2="198.63" y2="53.72" stroke="#e8383a" stroke-width="0.55"/>
<circle cx="198.63" cy="46.04" r="1.15" fill="#e8383a"/>
<line x1="209.14" y1="29.34" x2="209.14" y2="48.54" stroke="#e8383a" stroke-width="0.55"/>
<circle cx="209.14" cy="38.94" r="1.15" fill="#e8383a"/>
<circle cx="213.20" cy="35.60" r="0.90" fill="#e8383a"/>
<text x="218.10" y="37.60" font-size="5.55" stroke="#1c1c1c" stroke-width="0.2">IsotypeIgG-vc-MMAE,6 mpk</text>
<polyline points="149.60,73.50 156.60,73.31 163.61,72.54 172.95,69.66 179.95,64.86 198.63,42.40 209.14,39.13" fill="none" stroke="#3355cc" stroke-width="0.55"/>
<line x1="149.60" y1="72.92" x2="149.60" y2="74.08" stroke="#3355cc" stroke-width="0.55"/>
<circle cx="149.60" cy="73.50" r="1.15" fill="#3355cc"/>
<line x1="156.60" y1="72.54" x2="156.60" y2="74.08" stroke="#3355cc" stroke-width="0.55"/>
<circle cx="156.60" cy="73.31" r="1.15" fill="#3355cc"/>
<line x1="163.61" y1="71.39" x2="163.61" y2="73.69" stroke="#3355cc" stroke-width="0.55"/>
<circle cx="163.61" cy="72.54" r="1.15" fill="#3355cc"/>
<line x1="172.95" y1="68.12" x2="172.95" y2="71.20" stroke="#3355cc" stroke-width="0.55"/>
<circle cx="172.95" cy="69.66" r="1.15" fill="#3355cc"/>
<line x1="179.95" y1="62.56" x2="179.95" y2="67.16" stroke="#3355cc" stroke-width="0.55"/>
<circle cx="179.95" cy="64.86" r="1.15" fill="#3355cc"/>
<line x1="198.63" y1="31.84" x2="198.63" y2="52.96" stroke="#3355cc" stroke-width="0.55"/>
<circle cx="198.63" cy="42.40" r="1.15" fill="#3355cc"/>
<line x1="209.14" y1="33.37" x2="209.14" y2="44.89" stroke="#3355cc" stroke-width="0.55"/>
<circle cx="209.14" cy="39.13" r="1.15" fill="#3355cc"/>
<circle cx="213.20" cy="39.90" r="0.90" fill="#3355cc"/>
<text x="218.10" y="41.90" font-size="5.55" stroke="#1c1c1c" stroke-width="0.2">IsotypeIgG-T1000-exatecan,2.5 mpk</text>
<polyline points="149.60,73.50 156.60,73.31 163.61,72.54 172.95,70.24 179.95,66.40 198.63,58.72 209.14,50.46" fill="none" stroke="#e8383a" stroke-width="0.55"/>
<line x1="149.60" y1="72.92" x2="149.60" y2="74.08" stroke="#e8383a" stroke-width="0.55"/>
<circle cx="149.60" cy="73.50" r="1.15" fill="#e8383a"/>
<line x1="156.60" y1="72.54" x2="156.60" y2="74.08" stroke="#e8383a" stroke-width="0.55"/>
<circle cx="156.60" cy="73.31" r="1.15" fill="#e8383a"/>
<line x1="163.61" y1="71.39" x2="163.61" y2="73.69" stroke="#e8383a" stroke-width="0.55"/>
<circle cx="163.61" cy="72.54" r="1.15" fill="#e8383a"/>
<line x1="172.95" y1="68.70" x2="172.95" y2="71.77" stroke="#e8383a" stroke-width="0.55"/>
<circle cx="172.95" cy="70.24" r="1.15" fill="#e8383a"/>
<line x1="179.95" y1="64.48" x2="179.95" y2="68.32" stroke="#e8383a" stroke-width="0.55"/>
<circle cx="179.95" cy="66.40" r="1.15" fill="#e8383a"/>
<line x1="198.63" y1="55.84" x2="198.63" y2="61.60" stroke="#e8383a" stroke-width="0.55"/>
<circle cx="198.63" cy="58.72" r="1.15" fill="#e8383a"/>
<line x1="209.14" y1="46.62" x2="209.14" y2="54.30" stroke="#e8383a" stroke-width="0.55"/>
<circle cx="209.14" cy="50.46" r="1.15" fill="#e8383a"/>
<circle cx="213.20" cy="50.20" r="0.90" fill="#e8383a"/>
<text x="218.10" y="52.20" font-size="5.55" stroke="#1c1c1c" stroke-width="0.2">AMT-253-M,3 mpk</text>
<polyline points="149.60,73.69 156.60,74.08 163.61,73.50 172.95,72.54 179.95,70.24 198.63,65.24 209.14,58.91" fill="none" stroke="#ec5a6e" stroke-width="0.55"/>
<line x1="149.60" y1="73.12" x2="149.60" y2="74.27" stroke="#ec5a6e" stroke-width="0.55"/>
<circle cx="149.60" cy="73.69" r="1.15" fill="#ec5a6e"/>
<line x1="156.60" y1="73.31" x2="156.60" y2="74.84" stroke="#ec5a6e" stroke-width="0.55"/>
<circle cx="156.60" cy="74.08" r="1.15" fill="#ec5a6e"/>
<line x1="163.61" y1="72.54" x2="163.61" y2="74.46" stroke="#ec5a6e" stroke-width="0.55"/>
<circle cx="163.61" cy="73.50" r="1.15" fill="#ec5a6e"/>
<line x1="172.95" y1="71.39" x2="172.95" y2="73.69" stroke="#ec5a6e" stroke-width="0.55"/>
<circle cx="172.95" cy="72.54" r="1.15" fill="#ec5a6e"/>
<line x1="179.95" y1="68.70" x2="179.95" y2="71.77" stroke="#ec5a6e" stroke-width="0.55"/>
<circle cx="179.95" cy="70.24" r="1.15" fill="#ec5a6e"/>
<line x1="198.63" y1="62.94" x2="198.63" y2="67.55" stroke="#ec5a6e" stroke-width="0.55"/>
<circle cx="198.63" cy="65.24" r="1.15" fill="#ec5a6e"/>
<line x1="209.14" y1="56.03" x2="209.14" y2="61.79" stroke="#ec5a6e" stroke-width="0.55"/>
<circle cx="209.14" cy="58.91" r="1.15" fill="#ec5a6e"/>
<circle cx="213.20" cy="58.50" r="0.90" fill="#ec5a6e"/>
<text x="218.10" y="60.50" font-size="5.55" stroke="#1c1c1c" stroke-width="0.2">AMT-253-M,6 mpk</text>
<polyline points="149.60,73.69 156.60,74.46 163.61,74.46 172.95,74.08 179.95,72.54 198.63,67.55 209.14,62.56" fill="none" stroke="#a04ad8" stroke-width="0.55"/>
<line x1="149.60" y1="73.12" x2="149.60" y2="74.27" stroke="#a04ad8" stroke-width="0.55"/>
<circle cx="149.60" cy="73.69" r="1.15" fill="#a04ad8"/>
<line x1="156.60" y1="73.69" x2="156.60" y2="75.23" stroke="#a04ad8" stroke-width="0.55"/>
<circle cx="156.60" cy="74.46" r="1.15" fill="#a04ad8"/>
<line x1="163.61" y1="73.50" x2="163.61" y2="75.42" stroke="#a04ad8" stroke-width="0.55"/>
<circle cx="163.61" cy="74.46" r="1.15" fill="#a04ad8"/>
<line x1="172.95" y1="72.92" x2="172.95" y2="75.23" stroke="#a04ad8" stroke-width="0.55"/>
<circle cx="172.95" cy="74.08" r="1.15" fill="#a04ad8"/>
<line x1="179.95" y1="71.00" x2="179.95" y2="74.08" stroke="#a04ad8" stroke-width="0.55"/>
<circle cx="179.95" cy="72.54" r="1.15" fill="#a04ad8"/>
<line x1="198.63" y1="65.63" x2="198.63" y2="69.47" stroke="#a04ad8" stroke-width="0.55"/>
<circle cx="198.63" cy="67.55" r="1.15" fill="#a04ad8"/>
<line x1="209.14" y1="59.68" x2="209.14" y2="65.44" stroke="#a04ad8" stroke-width="0.55"/>
<circle cx="209.14" cy="62.56" r="1.15" fill="#a04ad8"/>
<circle cx="213.20" cy="64.10" r="0.90" fill="#a04ad8"/>
<text x="218.10" y="66.10" font-size="5.55" stroke="#1c1c1c" stroke-width="0.2">IsotypeIgG-T1000-exatecan,5 mpk</text>
<polyline points="149.60,73.69 156.60,75.42 163.61,76.38 172.95,76.76 179.95,77.15 198.63,77.72 209.14,77.72" fill="none" stroke="#6a4ae0" stroke-width="0.55"/>
<line x1="149.60" y1="73.12" x2="149.60" y2="74.27" stroke="#6a4ae0" stroke-width="0.55"/>
<circle cx="149.60" cy="73.69" r="1.15" fill="#6a4ae0"/>
<line x1="156.60" y1="74.65" x2="156.60" y2="76.19" stroke="#6a4ae0" stroke-width="0.55"/>
<circle cx="156.60" cy="75.42" r="1.15" fill="#6a4ae0"/>
<line x1="163.61" y1="75.42" x2="163.61" y2="77.34" stroke="#6a4ae0" stroke-width="0.55"/>
<circle cx="163.61" cy="76.38" r="1.15" fill="#6a4ae0"/>
<line x1="172.95" y1="75.61" x2="172.95" y2="77.92" stroke="#6a4ae0" stroke-width="0.55"/>
<circle cx="172.95" cy="76.76" r="1.15" fill="#6a4ae0"/>
<line x1="179.95" y1="76.00" x2="179.95" y2="78.30" stroke="#6a4ae0" stroke-width="0.55"/>
<circle cx="179.95" cy="77.15" r="1.15" fill="#6a4ae0"/>
<line x1="198.63" y1="77.34" x2="198.63" y2="78.11" stroke="#6a4ae0" stroke-width="0.55"/>
<circle cx="198.63" cy="77.72" r="1.15" fill="#6a4ae0"/>
<line x1="209.14" y1="77.53" x2="209.14" y2="77.92" stroke="#6a4ae0" stroke-width="0.55"/>
<circle cx="209.14" cy="77.72" r="1.15" fill="#6a4ae0"/>
<circle cx="213.20" cy="72.20" r="0.90" fill="#6a4ae0"/>
<text x="218.10" y="74.20" font-size="5.55" stroke="#1c1c1c" stroke-width="0.2">AMT-253,2.5 mpk</text>
<polyline points="149.60,73.69 156.60,76.38 163.61,77.34 172.95,77.72 179.95,77.92 198.63,78.11 209.14,78.11" fill="none" stroke="#4020c0" stroke-width="0.55"/>
<line x1="149.60" y1="73.12" x2="149.60" y2="74.27" stroke="#4020c0" stroke-width="0.55"/>
<circle cx="149.60" cy="73.69" r="1.15" fill="#4020c0"/>
<line x1="156.60" y1="75.80" x2="156.60" y2="76.96" stroke="#4020c0" stroke-width="0.55"/>
<circle cx="156.60" cy="76.38" r="1.15" fill="#4020c0"/>
<line x1="163.61" y1="76.76" x2="163.61" y2="77.92" stroke="#4020c0" stroke-width="0.55"/>
<circle cx="163.61" cy="77.34" r="1.15" fill="#4020c0"/>
<line x1="172.95" y1="77.34" x2="172.95" y2="78.11" stroke="#4020c0" stroke-width="0.55"/>
<circle cx="172.95" cy="77.72" r="1.15" fill="#4020c0"/>
<line x1="179.95" y1="77.72" x2="179.95" y2="78.11" stroke="#4020c0" stroke-width="0.55"/>
<circle cx="179.95" cy="77.92" r="1.15" fill="#4020c0"/>
<line x1="198.63" y1="78.01" x2="198.63" y2="78.20" stroke="#4020c0" stroke-width="0.55"/>
<circle cx="198.63" cy="78.11" r="1.15" fill="#4020c0"/>
<line x1="209.14" y1="78.01" x2="209.14" y2="78.20" stroke="#4020c0" stroke-width="0.55"/>
<circle cx="209.14" cy="78.11" r="1.15" fill="#4020c0"/>
<circle cx="213.20" cy="76.20" r="0.90" fill="#4020c0"/>
<text x="218.10" y="78.20" font-size="5.55" stroke="#1c1c1c" stroke-width="0.2">AMT-253,5 mpk</text>
<text x="1.20" y="125.40" font-size="13.2" stroke="#000" stroke-width="0.2" fill="#000" font-weight="bold">B</text>
<text x="15.40" y="123.00" font-size="6.1" stroke="#1c1c1c" stroke-width="0.2">Metastatic mucosal melanoma</text>
<text x="15.40" y="130.60" font-size="6.1" stroke="#1c1c1c" stroke-width="0.2">CDX_GAK</text>
<text x="15.4" y="138.0" font-size="6.1" stroke="#1c1c1c" stroke-width="0.2">H-score&#160;&#160;260&#160;&#160;<tspan fill="#e8262a" stroke="#e8262a">3+</tspan></text>
<rect x="12.40" y="144.00" width="54.40" height="39.70" filter="url(#t2)"/>
<rect x="50.60" y="179.00" width="11.40" height="2.60" fill="#ee1111"/>
<rect x="7.00" y="188.90" width="25.80" height="12.90" fill="#0a0a0a"/>
<rect x="7.00" y="203.30" width="25.80" height="13.10" fill="#0a0a0a"/>
<text x="19.90" y="194.95" font-size="5.0" text-anchor="middle" fill="#f4f4f4">Staining</text>
<text x="19.90" y="200.25" font-size="5.0" text-anchor="middle" fill="#f4f4f4">intensity</text>
<text x="19.90" y="209.45" font-size="5.0" text-anchor="middle" fill="#f4f4f4">Positive</text>
<text x="19.90" y="214.75" font-size="5.0" text-anchor="middle" fill="#f4f4f4">cell (%)</text>
<rect x="33.80" y="188.90" width="14.90" height="12.90" fill="#fdf0e6"/>
<text x="41.25" y="197.05" font-size="4.8" stroke="#6a5040" stroke-width="0.2" text-anchor="middle" fill="#6a5040">0</text>
<rect x="33.80" y="203.30" width="14.90" height="13.10" fill="#fdf0e6"/>
<text x="41.25" y="211.55" font-size="4.8" stroke="#6a5040" stroke-width="0.2" text-anchor="middle" fill="#6a5040">0</text>
<rect x="50.00" y="188.90" width="13.50" height="12.90" fill="#fbdfc8"/>
<text x="56.75" y="197.05" font-size="4.8" stroke="#6a5040" stroke-width="0.2" text-anchor="middle" fill="#6a5040">1+</text>
<rect x="50.00" y="203.30" width="13.50" height="13.10" fill="#fbdfc8"/>
<text x="56.75" y="211.55" font-size="4.8" stroke="#6a5040" stroke-width="0.2" text-anchor="middle" fill="#6a5040">10</text>
<rect x="64.50" y="188.90" width="14.20" height="12.90" fill="#f8cba2"/>
<text x="71.60" y="197.05" font-size="4.8" stroke="#6a5040" stroke-width="0.2" text-anchor="middle" fill="#6a5040">2+</text>
<rect x="64.50" y="203.30" width="14.20" height="13.10" fill="#f8cba2"/>
<text x="71.60" y="211.55" font-size="4.8" stroke="#6a5040" stroke-width="0.2" text-anchor="middle" fill="#6a5040">20</text>
<rect x="80.00" y="188.90" width="14.00" height="12.90" fill="#e5711f"/>
<text x="87.00" y="197.05" font-size="4.8" stroke="#5a2a10" stroke-width="0.2" text-anchor="middle" fill="#5a2a10">3+</text>
<rect x="80.00" y="203.30" width="14.00" height="13.10" fill="#e5711f"/>
<text x="87.00" y="211.55" font-size="4.8" stroke="#5a2a10" stroke-width="0.2" text-anchor="middle" fill="#5a2a10">70</text>
<line x1="145.00" y1="122.50" x2="145.00" y2="197.50" stroke="#1a1a1a" stroke-width="0.85"/>
<line x1="145.00" y1="197.50" x2="199.00" y2="197.50" stroke="#1a1a1a" stroke-width="0.85"/>
<line x1="143.60" y1="197.30" x2="145.00" y2="197.30" stroke="#222" stroke-width="0.6"/>
<text x="142.80" y="199.30" font-size="5.6" stroke="#1c1c1c" stroke-width="0.2" text-anchor="end">0</text>
<line x1="143.60" y1="179.10" x2="145.00" y2="179.10" stroke="#222" stroke-width="0.6"/>
<text x="142.80" y="181.10" font-size="5.6" stroke="#1c1c1c" stroke-width="0.2" text-anchor="end">400</text>
<line x1="143.60" y1="160.90" x2="145.00" y2="160.90" stroke="#222" stroke-width="0.6"/>
<text x="142.80" y="162.90" font-size="5.6" stroke="#1c1c1c" stroke-width="0.2" text-anchor="end">800</text>
<line x1="143.60" y1="142.70" x2="145.00" y2="142.70" stroke="#222" stroke-width="0.6"/>
<text x="142.80" y="144.70" font-size="5.6" stroke="#1c1c1c" stroke-width="0.2" text-anchor="end">1,200</text>
<line x1="143.60" y1="124.50" x2="145.00" y2="124.50" stroke="#222" stroke-width="0.6"/>
<text x="142.80" y="126.50" font-size="5.6" stroke="#1c1c1c" stroke-width="0.2" text-anchor="end">1,600</text>
<line x1="146.00" y1="197.50" x2="146.00" y2="199.00" stroke="#222" stroke-width="0.6"/>
<text x="147.00" y="205.30" font-size="5.6" stroke="#1c1c1c" stroke-width="0.2" text-anchor="middle">13</text>
<line x1="159.00" y1="197.50" x2="159.00" y2="199.00" stroke="#222" stroke-width="0.6"/>
<text x="160.00" y="205.30" font-size="5.6" stroke="#1c1c1c" stroke-width="0.2" text-anchor="middle">17</text>
<line x1="172.00" y1="197.50" x2="172.00" y2="199.00" stroke="#222" stroke-width="0.6"/>
<text x="173.00" y="205.30" font-size="5.6" stroke="#1c1c1c" stroke-width="0.2" text-anchor="middle">21</text>
<line x1="185.00" y1="197.50" x2="185.00" y2="199.00" stroke="#222" stroke-width="0.6"/>
<text x="186.00" y="205.30" font-size="5.6" stroke="#1c1c1c" stroke-width="0.2" text-anchor="middle">25</text>
<line x1="198.00" y1="197.50" x2="198.00" y2="199.00" stroke="#222" stroke-width="0.6"/>
<text x="199.00" y="205.30" font-size="5.6" stroke="#1c1c1c" stroke-width="0.2" text-anchor="middle">29</text>
<text x="120.30" y="157.80" font-size="5.3" stroke="#1c1c1c" stroke-width="0.2" text-anchor="middle" transform="rotate(-90 120.30 157.80)">Tumor volume (mm<tspan font-size="3.4" dy="-2">3</tspan><tspan dy="2">)</tspan></text>
<text x="127.10" y="156.20" font-size="5.1" stroke="#1c1c1c" stroke-width="0.2" text-anchor="middle" transform="rotate(-90 127.10 156.20)">(Mean±SEM)</text>
<text x="135.80" y="211.80" font-size="5.6" stroke="#1c1c1c" stroke-width="0.2">Days after tumor inoculation</text>
<path d="M146.40,216.0 l-1.3,2.6 h0.85 v3.6 h0.9 v-3.6 h0.85 z" fill="#e8323a"/>
<path d="M171.20,216.0 l-1.3,2.6 h0.85 v3.6 h0.9 v-3.6 h0.85 z" fill="#e8323a"/>
<polyline points="146.00,189.11 152.50,187.29 165.50,183.65 175.25,176.83 188.25,157.26 198.00,147.25" fill="none" stroke="#e8383a" stroke-width="0.5"/>
<line x1="146.00" y1="187.29" x2="146.00" y2="190.93" stroke="#e8383a" stroke-width="0.55"/>
<circle cx="146.00" cy="189.11" r="1.15" fill="#e8383a"/>
<line x1="152.50" y1="184.56" x2="152.50" y2="190.02" stroke="#e8383a" stroke-width="0.55"/>
<circle cx="152.50" cy="187.29" r="1.15" fill="#e8383a"/>
<line x1="165.50" y1="180.01" x2="165.50" y2="187.29" stroke="#e8383a" stroke-width="0.55"/>
<circle cx="165.50" cy="183.65" r="1.15" fill="#e8383a"/>
<line x1="175.25" y1="171.37" x2="175.25" y2="182.29" stroke="#e8383a" stroke-width="0.55"/>
<circle cx="175.25" cy="176.83" r="1.15" fill="#e8383a"/>
<line x1="188.25" y1="148.16" x2="188.25" y2="166.36" stroke="#e8383a" stroke-width="0.55"/>
<circle cx="188.25" cy="157.26" r="1.15" fill="#e8383a"/>
<line x1="198.00" y1="135.88" x2="198.00" y2="158.62" stroke="#e8383a" stroke-width="0.55"/>
<circle cx="198.00" cy="147.25" r="1.15" fill="#e8383a"/>
<circle cx="202.50" cy="147.00" r="0.90" fill="#e8383a"/>
<text x="206.00" y="149.15" font-size="6.1" stroke="#1c1c1c" stroke-width="0.2">IsotypeIgG-vc-MMAE,6 mg/kg</text>
<polyline points="146.00,189.56 152.50,187.29 165.50,182.29 175.25,178.19 188.25,167.73 198.00,152.48" fill="none" stroke="#3355cc" stroke-width="0.5"/>
<line x1="146.00" y1="187.75" x2="146.00" y2="191.39" stroke="#3355cc" stroke-width="0.55"/>
<circle cx="146.00" cy="189.56" r="1.15" fill="#3355cc"/>
<line x1="152.50" y1="185.02" x2="152.50" y2="189.56" stroke="#3355cc" stroke-width="0.55"/>
<circle cx="152.50" cy="187.29" r="1.15" fill="#3355cc"/>
<line x1="165.50" y1="178.65" x2="165.50" y2="185.93" stroke="#3355cc" stroke-width="0.55"/>
<circle cx="165.50" cy="182.29" r="1.15" fill="#3355cc"/>
<line x1="175.25" y1="173.64" x2="175.25" y2="182.74" stroke="#3355cc" stroke-width="0.55"/>
<circle cx="175.25" cy="178.19" r="1.15" fill="#3355cc"/>
<line x1="188.25" y1="160.90" x2="188.25" y2="174.55" stroke="#3355cc" stroke-width="0.55"/>
<circle cx="188.25" cy="167.73" r="1.15" fill="#3355cc"/>
<line x1="198.00" y1="143.38" x2="198.00" y2="161.58" stroke="#3355cc" stroke-width="0.55"/>
<circle cx="198.00" cy="152.48" r="1.15" fill="#3355cc"/>
<circle cx="202.50" cy="152.50" r="0.90" fill="#3355cc"/>
<text x="206.00" y="154.65" font-size="6.1" stroke="#1c1c1c" stroke-width="0.2">IsotypeIgG-T1000-exatecan,5 mg/kg</text>
<polyline points="146.00,189.11 152.50,186.38 165.50,181.38 175.25,175.46 188.25,165.45 198.00,157.49" fill="none" stroke="#e8383a" stroke-width="0.5"/>
<line x1="146.00" y1="187.29" x2="146.00" y2="190.93" stroke="#e8383a" stroke-width="0.55"/>
<circle cx="146.00" cy="189.11" r="1.15" fill="#e8383a"/>
<line x1="152.50" y1="184.11" x2="152.50" y2="188.66" stroke="#e8383a" stroke-width="0.55"/>
<circle cx="152.50" cy="186.38" r="1.15" fill="#e8383a"/>
<line x1="165.50" y1="178.19" x2="165.50" y2="184.56" stroke="#e8383a" stroke-width="0.55"/>
<circle cx="165.50" cy="181.38" r="1.15" fill="#e8383a"/>
<line x1="175.25" y1="171.37" x2="175.25" y2="179.56" stroke="#e8383a" stroke-width="0.55"/>
<circle cx="175.25" cy="175.46" r="1.15" fill="#e8383a"/>
<line x1="188.25" y1="159.99" x2="188.25" y2="170.91" stroke="#e8383a" stroke-width="0.55"/>
<circle cx="188.25" cy="165.45" r="1.15" fill="#e8383a"/>
<line x1="198.00" y1="150.66" x2="198.00" y2="164.31" stroke="#e8383a" stroke-width="0.55"/>
<circle cx="198.00" cy="157.49" r="1.15" fill="#e8383a"/>
<circle cx="202.50" cy="157.50" r="0.90" fill="#e8383a"/>
<text x="206.00" y="159.65" font-size="6.1" stroke="#1c1c1c" stroke-width="0.2">AMT-253-M,3 mg/kg</text>
<polyline points="146.00,189.11 152.50,186.84 165.50,181.83 175.25,178.19 188.25,170.00 198.00,162.49" fill="none" stroke="#111111" stroke-width="0.5"/>
<line x1="146.00" y1="187.29" x2="146.00" y2="190.93" stroke="#111111" stroke-width="0.55"/>
<circle cx="146.00" cy="189.11" r="1.15" fill="#111111"/>
<line x1="152.50" y1="184.56" x2="152.50" y2="189.11" stroke="#111111" stroke-width="0.55"/>
<circle cx="152.50" cy="186.84" r="1.15" fill="#111111"/>
<line x1="165.50" y1="179.10" x2="165.50" y2="184.56" stroke="#111111" stroke-width="0.55"/>
<circle cx="165.50" cy="181.83" r="1.15" fill="#111111"/>
<line x1="175.25" y1="174.55" x2="175.25" y2="181.83" stroke="#111111" stroke-width="0.55"/>
<circle cx="175.25" cy="178.19" r="1.15" fill="#111111"/>
<line x1="188.25" y1="164.54" x2="188.25" y2="175.46" stroke="#111111" stroke-width="0.55"/>
<circle cx="188.25" cy="170.00" r="1.15" fill="#111111"/>
<line x1="198.00" y1="155.67" x2="198.00" y2="169.32" stroke="#111111" stroke-width="0.55"/>
<circle cx="198.00" cy="162.49" r="1.15" fill="#111111"/>
<circle cx="202.50" cy="162.50" r="0.90" fill="#111111"/>
<text x="206.00" y="164.65" font-size="6.1" stroke="#1c1c1c" stroke-width="0.2">PBS</text>
<polyline points="146.00,190.02 152.50,188.20 165.50,183.65 175.25,180.01 188.25,173.64 198.00,168.00" fill="none" stroke="#a04ad8" stroke-width="0.5"/>
<line x1="146.00" y1="188.66" x2="146.00" y2="191.39" stroke="#a04ad8" stroke-width="0.55"/>
<circle cx="146.00" cy="190.02" r="1.15" fill="#a04ad8"/>
<line x1="152.50" y1="186.38" x2="152.50" y2="190.02" stroke="#a04ad8" stroke-width="0.55"/>
<circle cx="152.50" cy="188.20" r="1.15" fill="#a04ad8"/>
<line x1="165.50" y1="180.92" x2="165.50" y2="186.38" stroke="#a04ad8" stroke-width="0.55"/>
<circle cx="165.50" cy="183.65" r="1.15" fill="#a04ad8"/>
<line x1="175.25" y1="176.37" x2="175.25" y2="183.65" stroke="#a04ad8" stroke-width="0.55"/>
<circle cx="175.25" cy="180.01" r="1.15" fill="#a04ad8"/>
<line x1="188.25" y1="169.09" x2="188.25" y2="178.19" stroke="#a04ad8" stroke-width="0.55"/>
<circle cx="188.25" cy="173.64" r="1.15" fill="#a04ad8"/>
<line x1="198.00" y1="162.54" x2="198.00" y2="173.46" stroke="#a04ad8" stroke-width="0.55"/>
<circle cx="198.00" cy="168.00" r="1.15" fill="#a04ad8"/>
<circle cx="202.50" cy="168.00" r="0.90" fill="#a04ad8"/>
<text x="206.00" y="170.15" font-size="6.1" stroke="#1c1c1c" stroke-width="0.2">IsotypeIgG-T1000-exatecan,10 mg/kg</text>
<polyline points="146.00,190.48 152.50,188.66 165.50,185.47 175.25,182.29 188.25,177.74 198.00,173.19" fill="none" stroke="#2a2ad0" stroke-width="0.5"/>
<line x1="146.00" y1="189.11" x2="146.00" y2="191.84" stroke="#2a2ad0" stroke-width="0.55"/>
<circle cx="146.00" cy="190.48" r="1.15" fill="#2a2ad0"/>
<line x1="152.50" y1="186.84" x2="152.50" y2="190.48" stroke="#2a2ad0" stroke-width="0.55"/>
<circle cx="152.50" cy="188.66" r="1.15" fill="#2a2ad0"/>
<line x1="165.50" y1="183.20" x2="165.50" y2="187.75" stroke="#2a2ad0" stroke-width="0.55"/>
<circle cx="165.50" cy="185.47" r="1.15" fill="#2a2ad0"/>
<line x1="175.25" y1="179.56" x2="175.25" y2="185.02" stroke="#2a2ad0" stroke-width="0.55"/>
<circle cx="175.25" cy="182.29" r="1.15" fill="#2a2ad0"/>
<line x1="188.25" y1="174.10" x2="188.25" y2="181.38" stroke="#2a2ad0" stroke-width="0.55"/>
<circle cx="188.25" cy="177.74" r="1.15" fill="#2a2ad0"/>
<line x1="198.00" y1="168.64" x2="198.00" y2="177.74" stroke="#2a2ad0" stroke-width="0.55"/>
<circle cx="198.00" cy="173.19" r="1.15" fill="#2a2ad0"/>
<circle cx="202.50" cy="173.20" r="0.90" fill="#2a2ad0"/>
<text x="206.00" y="175.35" font-size="6.1" stroke="#1c1c1c" stroke-width="0.2">AMT-253,5 mg/kg</text>
<polyline points="146.00,190.93 152.50,189.56 165.50,187.29 175.25,184.56 188.25,182.29 198.00,178.69" fill="none" stroke="#d050d8" stroke-width="0.5"/>
<line x1="146.00" y1="189.56" x2="146.00" y2="192.30" stroke="#d050d8" stroke-width="0.55"/>
<circle cx="146.00" cy="190.93" r="1.15" fill="#d050d8"/>
<line x1="152.50" y1="187.75" x2="152.50" y2="191.39" stroke="#d050d8" stroke-width="0.55"/>
<circle cx="152.50" cy="189.56" r="1.15" fill="#d050d8"/>
<line x1="165.50" y1="185.02" x2="165.50" y2="189.56" stroke="#d050d8" stroke-width="0.55"/>
<circle cx="165.50" cy="187.29" r="1.15" fill="#d050d8"/>
<line x1="175.25" y1="182.29" x2="175.25" y2="186.84" stroke="#d050d8" stroke-width="0.55"/>
<circle cx="175.25" cy="184.56" r="1.15" fill="#d050d8"/>
<line x1="188.25" y1="179.56" x2="188.25" y2="185.02" stroke="#d050d8" stroke-width="0.55"/>
<circle cx="188.25" cy="182.29" r="1.15" fill="#d050d8"/>
<line x1="198.00" y1="175.05" x2="198.00" y2="182.33" stroke="#d050d8" stroke-width="0.55"/>
<circle cx="198.00" cy="178.69" r="1.15" fill="#d050d8"/>
<circle cx="202.50" cy="178.70" r="0.90" fill="#d050d8"/>
<text x="206.00" y="180.85" font-size="6.1" stroke="#1c1c1c" stroke-width="0.2">AMT-253-M,6 mg/kg</text>
<polyline points="146.00,191.39 152.50,190.02 165.50,188.20 175.25,186.84 188.25,186.84 198.00,184.51" fill="none" stroke="#b02828" stroke-width="0.5"/>
<line x1="146.00" y1="190.02" x2="146.00" y2="192.75" stroke="#b02828" stroke-width="0.55"/>
<circle cx="146.00" cy="191.39" r="1.15" fill="#b02828"/>
<line x1="152.50" y1="188.66" x2="152.50" y2="191.39" stroke="#b02828" stroke-width="0.55"/>
<circle cx="152.50" cy="190.02" r="1.15" fill="#b02828"/>
<line x1="165.50" y1="186.38" x2="165.50" y2="190.02" stroke="#b02828" stroke-width="0.55"/>
<circle cx="165.50" cy="188.20" r="1.15" fill="#b02828"/>
<line x1="175.25" y1="185.02" x2="175.25" y2="188.66" stroke="#b02828" stroke-width="0.55"/>
<circle cx="175.25" cy="186.84" r="1.15" fill="#b02828"/>
<line x1="188.25" y1="184.56" x2="188.25" y2="189.11" stroke="#b02828" stroke-width="0.55"/>
<circle cx="188.25" cy="186.84" r="1.15" fill="#b02828"/>
<line x1="198.00" y1="181.78" x2="198.00" y2="187.24" stroke="#b02828" stroke-width="0.55"/>
<circle cx="198.00" cy="184.51" r="1.15" fill="#b02828"/>
<circle cx="202.50" cy="184.50" r="0.90" fill="#b02828"/>
<text x="206.00" y="186.65" font-size="6.1" stroke="#1c1c1c" stroke-width="0.2">AMT-253,10 mg/kg</text>
<text x="338.60" y="12.00" font-size="13.2" stroke="#000" stroke-width="0.2" fill="#000" font-weight="bold">C</text>
<rect x="366.40" y="8.70" width="63.40" height="41.00" filter="url(#t3)"/>
<rect x="366.40" y="8.70" width="63.40" height="41.00" filter="url(#p4)"/>
<rect x="434.00" y="8.50" width="61.30" height="40.90" filter="url(#t5)"/>
<rect x="434.00" y="8.50" width="61.30" height="40.90" filter="url(#p6)"/>
<g clip-path="url(#c7)">
<g filter="url(#bl1)" opacity="0.75">
<path d="M464,8 C466,20 468,34 470,50" fill="none" stroke="#e07cc8" stroke-width="3"/>
<path d="M448,20 C449,30 450,40 452,50" fill="none" stroke="#e07cc8" stroke-width="2.4"/>
<path d="M484,14 C486,26 488,36 492,48" fill="none" stroke="#d070c4" stroke-width="2"/>
</g>
<ellipse cx="439.4" cy="23.2" rx="3" ry="4.2" fill="#d8d4de"/>
<ellipse cx="444.1" cy="26.8" rx="3" ry="3.8" fill="#d8d4de"/>
<ellipse cx="438" cy="34.5" rx="4" ry="4.8" fill="#d8d4de"/>
<ellipse cx="438" cy="43.5" rx="4" ry="5" fill="#d8d4de"/>
<ellipse cx="446.8" cy="34.2" rx="3" ry="3.8" fill="#d8d4de"/>
<ellipse cx="455.6" cy="36.6" rx="3.5" ry="4" fill="#d8d4de"/>
<ellipse cx="460.7" cy="31.9" rx="4" ry="4.5" fill="#d8d4de"/>
<ellipse cx="459.3" cy="43.4" rx="4" ry="4" fill="#d8d4de"/>
<ellipse cx="477.1" cy="43.4" rx="4.2" ry="4.4" fill="#d8d4de"/>
<ellipse cx="480.9" cy="31.2" rx="3.5" ry="4" fill="#d8d4de"/>
<ellipse cx="487.9" cy="40" rx="3.5" ry="4.3" fill="#d8d4de"/>
<ellipse cx="477.1" cy="10.2" rx="3" ry="2.2" fill="#d8d4de"/>
<ellipse cx="462.3" cy="10.2" rx="3" ry="2.2" fill="#d8d4de"/>
<ellipse cx="441.4" cy="10.5" rx="2" ry="1.8" fill="#d8d4de"/>
</g>
<rect x="366.20" y="53.10" width="62.80" height="41.30" filter="url(#t8)"/>
<rect x="366.20" y="53.10" width="62.80" height="41.30" filter="url(#p9)"/>
<g clip-path="url(#c10)">
<rect x="366.20" y="53.10" width="12.00" height="41.30" fill="#dc4cbc" opacity="0.3"/>
<path d="M376.5,94.5 C377.5,88 380,82 384,77 C386,74 388.5,73 389.5,75.5 C389.5,79 387.5,84 388,89 C388.5,92 389,94 389,94.5 Z" fill="#d6d2da"/>
<path d="M380,60 C384,64 386,70 384,76" fill="none" stroke="#d848b8" stroke-width="2" opacity="0.8"/>
</g>
<rect x="434.00" y="53.00" width="61.30" height="40.80" filter="url(#t11)"/>
<rect x="434.00" y="53.00" width="61.30" height="40.80" filter="url(#p12)"/>
<g clip-path="url(#c13)">
<g filter="url(#bl1)" opacity="0.8">
<ellipse cx="438" cy="64" rx="3" ry="6" fill="#e8e2ee"/>
<ellipse cx="439" cy="82" rx="4" ry="7" fill="#e8e2ee"/>
<ellipse cx="455" cy="89" rx="5" ry="4" fill="#e8e2ee"/>
<ellipse cx="489" cy="87" rx="4" ry="5" fill="#e8e2ee"/>
<ellipse cx="468" cy="70" rx="2.5" ry="2.5" fill="#e8e2ee"/>
<ellipse cx="476" cy="60" rx="2" ry="2" fill="#e8e2ee"/>
</g>
<rect x="434.00" y="53.00" width="61.30" height="2.60" fill="#d070c0" opacity="0.55"/>
</g>
<rect x="479.00" y="89.80" width="8.40" height="1.80" fill="#ee1111"/>
<rect x="365.40" y="102.30" width="64.40" height="41.30" fill="#8c7cd0"/>
<g clip-path="url(#c14)"><g clip-path="url(#c15)">
<rect x="365.40" y="102.30" width="64.40" height="41.30" filter="url(#t16)"/>
</g></g>
<g clip-path="url(#c17)">
<ellipse cx="373" cy="110" rx="5" ry="4" fill="#8470cc" opacity="0.4" filter="url(#bl2)"/>
<ellipse cx="393" cy="110" rx="5" ry="4" fill="#8470cc" opacity="0.4" filter="url(#bl2)"/>
<ellipse cx="415" cy="108" rx="5" ry="4" fill="#8470cc" opacity="0.4" filter="url(#bl2)"/>
<ellipse cx="375" cy="133" rx="5" ry="4" fill="#8470cc" opacity="0.4" filter="url(#bl2)"/>
<ellipse cx="399" cy="129" rx="5" ry="4" fill="#8470cc" opacity="0.4" filter="url(#bl2)"/>
<ellipse cx="421" cy="132" rx="5" ry="4" fill="#8470cc" opacity="0.4" filter="url(#bl2)"/>
</g>
<rect x="436.00" y="101.40" width="61.20" height="41.10" filter="url(#t18)"/>
<rect x="365.40" y="147.00" width="64.40" height="41.60" fill="#d6c4ea"/>
<g clip-path="url(#c19)"><g clip-path="url(#c20)">
<rect x="365.40" y="147.00" width="64.40" height="41.60" filter="url(#t21)"/>
</g></g>
<g clip-path="url(#c22)">
<path d="M365,147 L371,147 C373,158 377,170 384,180 C387,184 391,187 394,189 L365,189 Z" fill="#e2d6ee" opacity="0.92" filter="url(#bl1)"/>
<path d="M411,147 C412,160 411,175 413,189" fill="none" stroke="#dccaf0" stroke-width="1.6" opacity="0.8"/>
</g>
<rect x="436.00" y="145.80" width="61.20" height="42.80" filter="url(#t23)"/>
<rect x="436.00" y="145.80" width="61.20" height="42.80" filter="url(#p24)"/>
<rect x="394.2" y="20.5" width="5.40" height="4.80" fill="none" stroke="#111" stroke-width="0.6"/>
<line x1="399.60" y1="20.50" x2="434.00" y2="8.80" stroke="#111" stroke-width="0.6"/>
<line x1="399.60" y1="25.30" x2="434.00" y2="49.60" stroke="#111" stroke-width="0.6"/>
<rect x="395.6" y="61.0" width="5.00" height="4.60" fill="none" stroke="#111" stroke-width="0.6"/>
<line x1="400.60" y1="61.00" x2="434.00" y2="53.40" stroke="#111" stroke-width="0.6"/>
<line x1="400.60" y1="65.60" x2="434.00" y2="95.00" stroke="#111" stroke-width="0.6"/>
<rect x="391.2" y="119.0" width="5.40" height="4.60" fill="none" stroke="#111" stroke-width="0.6"/>
<line x1="396.60" y1="119.00" x2="436.00" y2="101.60" stroke="#111" stroke-width="0.6"/>
<line x1="396.60" y1="123.60" x2="436.00" y2="143.30" stroke="#111" stroke-width="0.6"/>
<rect x="384.8" y="161.7" width="5.00" height="4.50" fill="none" stroke="#111" stroke-width="0.6"/>
<line x1="389.80" y1="161.70" x2="436.00" y2="146.00" stroke="#111" stroke-width="0.6"/>
<line x1="389.80" y1="166.20" x2="436.00" y2="188.60" stroke="#111" stroke-width="0.6"/>
<line x1="354.80" y1="14.60" x2="354.80" y2="88.80" stroke="#222" stroke-width="0.6"/>
<line x1="354.80" y1="100.00" x2="354.80" y2="185.50" stroke="#222" stroke-width="0.6"/>
<text x="352.20" y="51.30" font-size="6.6" stroke="#1c1c1c" stroke-width="0.2" text-anchor="middle" transform="rotate(-90 352.20 51.30)">Sternal bone marrow</text>
<text x="352.20" y="142.50" font-size="6.6" stroke="#1c1c1c" stroke-width="0.2" text-anchor="middle" transform="rotate(-90 352.20 142.50)">Thymus</text>
<text x="364.30" y="31.40" font-size="6.6" stroke="#1c1c1c" stroke-width="0.2" text-anchor="middle" transform="rotate(-90 364.30 31.40)">Vehicle</text>
<text x="364.30" y="73.10" font-size="6.6" stroke="#1c1c1c" stroke-width="0.2" text-anchor="middle" transform="rotate(-90 364.30 73.10)">AMT-253</text>
<text x="364.30" y="123.00" font-size="6.6" stroke="#1c1c1c" stroke-width="0.2" text-anchor="middle" transform="rotate(-90 364.30 123.00)">Vehicle</text>
<text x="364.30" y="167.60" font-size="6.6" stroke="#1c1c1c" stroke-width="0.2" text-anchor="middle" transform="rotate(-90 364.30 167.60)">AMT-253</text>
<text x="512.20" y="74.00" font-size="6.0" stroke="#1c1c1c" stroke-width="0.2" text-anchor="middle" transform="rotate(90 512.20 74.00)">Decreased</text>
<text x="505.00" y="74.00" font-size="6.0" stroke="#1c1c1c" stroke-width="0.2" text-anchor="middle" transform="rotate(90 505.00 74.00)">hematopoietic</text>
<text x="498.20" y="74.00" font-size="6.0" stroke="#1c1c1c" stroke-width="0.2" text-anchor="middle" transform="rotate(90 498.20 74.00)">cellularity</text>
<text x="515.00" y="165.10" font-size="6.0" stroke="#1c1c1c" stroke-width="0.2" text-anchor="middle" transform="rotate(90 515.00 165.10)">Decreased</text>
<text x="508.00" y="165.10" font-size="6.0" stroke="#1c1c1c" stroke-width="0.2" text-anchor="middle" transform="rotate(90 508.00 165.10)">hematopoietic</text>
<text x="500.50" y="165.10" font-size="6.0" stroke="#1c1c1c" stroke-width="0.2" text-anchor="middle" transform="rotate(90 500.50 165.10)">cellularity</text>
<text x="338.00" y="203.80" font-size="13.2" stroke="#000" stroke-width="0.2" fill="#000" font-weight="bold">D</text>
<text x="389.60" y="209.00" font-size="6.6" stroke="#1c1c1c" stroke-width="0.2" text-anchor="middle">Vehicle</text>
<text x="436.20" y="202.50" font-size="6.6" stroke="#1c1c1c" stroke-width="0.2" text-anchor="middle">AMT-253</text>
<text x="436.20" y="210.20" font-size="6.6" stroke="#1c1c1c" stroke-width="0.2" text-anchor="middle">(60 mg/kg)</text>
<text x="362.00" y="228.50" font-size="6.6" stroke="#1c1c1c" stroke-width="0.2" text-anchor="middle" transform="rotate(-90 362.00 228.50)">Kidney</text>
<text x="362.00" y="266.60" font-size="6.6" stroke="#1c1c1c" stroke-width="0.2" text-anchor="middle" transform="rotate(-90 362.00 266.60)">Skin</text>
<text x="362.00" y="305.00" font-size="6.6" stroke="#1c1c1c" stroke-width="0.2" text-anchor="middle" transform="rotate(-90 362.00 305.00)">Esophagus</text>
<rect x="364.70" y="211.90" width="47.90" height="35.00" filter="url(#t25)"/>
<g clip-path="url(#c26)">
<g filter="url(#bl1)">
<ellipse cx="389.5" cy="228" rx="10" ry="3.4" fill="#e0ccdf" transform="rotate(-55 389.5 228)" opacity="0.9"/>
<ellipse cx="389.5" cy="228" rx="7.5" ry="1.6" fill="#f0e6ee" transform="rotate(-55 389.5 228)" opacity="0.9"/>
<ellipse cx="375" cy="236" rx="4" ry="3" fill="#d4bcd8" opacity="0.7"/>
</g>
</g>
<rect x="407.60" y="244.90" width="3.50" height="1.20" fill="#f4eef2"/>
<rect x="415.00" y="211.90" width="47.90" height="35.00" filter="url(#t27)"/>
<g clip-path="url(#c28)">
<g filter="url(#bl1)">
<ellipse cx="438" cy="229" rx="8" ry="4" fill="#d8c4e0" transform="rotate(-55 438 229)" opacity="0.85"/>
<ellipse cx="438" cy="229" rx="5.5" ry="1.5" fill="#f0e4ee" transform="rotate(-55 438 229)" opacity="0.9"/>
</g>
</g>
<rect x="457.90" y="244.90" width="3.50" height="1.20" fill="#f4eef2"/>
<rect x="364.70" y="249.00" width="47.90" height="35.10" filter="url(#t29)"/>
<g clip-path="url(#c30)">
<rect x="364.70" y="249.00" width="47.90" height="35.10" filter="url(#p31)"/>
<path d="M364,281 C378,276 394,270 413,264" fill="none" stroke="#d4cad6" stroke-width="2.4" opacity="0.8"/>
<path d="M364,258 C372,254 380,253 388,252" fill="none" stroke="#d4cad6" stroke-width="2.4" opacity="0.7"/>
<path d="M368,272 C380,266 394,262 410,258" fill="none" stroke="#e382bd" stroke-width="3.0" opacity="0.6"/>
<path d="M372,263 C380,258 388,258 398,255" fill="none" stroke="#e890c4" stroke-width="2.2" opacity="0.55"/>
<ellipse cx="377" cy="266" rx="3.2" ry="1.6" fill="#ecdae6"/>
<ellipse cx="386" cy="258" rx="2.5" ry="1.2" fill="#e6dae6" opacity="0.8"/>
</g>
<rect x="407.60" y="282.10" width="3.50" height="1.20" fill="#f4eef2"/>
<rect x="415.00" y="249.00" width="47.90" height="35.10" filter="url(#t32)"/>
<g clip-path="url(#c33)">
<rect x="415.00" y="249.00" width="47.90" height="35.10" filter="url(#p34)"/>
<path d="M438,285 C442,276 450,268 464,264" fill="none" stroke="#d4cad6" stroke-width="4" opacity="0.7"/>
<path d="M422,250 C430,258 438,266 446,284" fill="none" stroke="#e382bd" stroke-width="3.2" opacity="0.55"/>
<path d="M416,256 C424,254 430,252 436,249" fill="none" stroke="#e890c4" stroke-width="2.5" opacity="0.5"/>
</g>
<rect x="457.90" y="282.10" width="3.50" height="1.20" fill="#f4eef2"/>
<rect x="364.70" y="287.20" width="47.90" height="35.10" filter="url(#t35)"/>
<g clip-path="url(#c36)">
<path d="M364,287 L413,287 L413,297 C405,299 398,294 390,297 C382,300 372,297 364,296 Z" fill="#c860b0" opacity="0.5"/>
<rect x="364.70" y="287.20" width="47.90" height="35.10" filter="url(#p37)"/>
</g>
<rect x="407.60" y="320.30" width="3.50" height="1.20" fill="#f4eef2"/>
<rect x="415.00" y="287.20" width="47.90" height="35.10" filter="url(#t38)"/>
<g clip-path="url(#c39)">
<path d="M415,287 L424,287 C422,292 426,296 422,300 C426,305 421,310 425,315 L422,323 L415,323 Z" fill="#c462ac" opacity="0.5"/>
<line x1="436.50" y1="288.00" x2="438.50" y2="322.00" stroke="#f0e2ec" stroke-width="0.8" opacity="0.6"/>
</g>
<rect x="457.90" y="320.30" width="3.50" height="1.20" fill="#f4eef2"/>
<rect x="452.50" y="316.00" width="7.40" height="2.60" fill="#ee1111"/>
<line x1="374.50" y1="221.00" x2="378.17" y2="224.67" stroke="#000" stroke-width="1.1"/>
<path d="M380.50,227.00 L376.05,226.08 L379.58,222.55 Z" fill="#000"/>
<line x1="449.50" y1="218.00" x2="446.98" y2="223.05" stroke="#000" stroke-width="1.1"/>
<path d="M445.50,226.00 L444.96,221.48 L449.44,223.72 Z" fill="#000"/>
<line x1="385.00" y1="257.50" x2="383.16" y2="260.65" stroke="#000" stroke-width="1.1"/>
<path d="M381.50,263.50 L381.26,258.96 L385.57,261.48 Z" fill="#000"/>
<line x1="442.50" y1="259.50" x2="439.55" y2="261.91" stroke="#000" stroke-width="1.1"/>
<path d="M437.00,264.00 L438.36,259.66 L441.52,263.53 Z" fill="#000"/>
<path d="M373.5,301 L377.5,298.5 L377.5,303.5 Z" fill="#000"/>
<path d="M444.5,301 L448.5,298.5 L448.5,303.5 Z" fill="#000"/>
<text x="65.00" y="242.40" font-size="13.2" stroke="#000" stroke-width="0.2" fill="#000" font-weight="bold">E</text>
<text x="100.60" y="240.80" font-size="5.4" stroke="#1c1c1c" stroke-width="0.2">TK of AMT-253 in monkey</text>
<line x1="85.80" y1="248.50" x2="85.80" y2="321.40" stroke="#222" stroke-width="0.7"/>
<line x1="85.80" y1="321.40" x2="180.20" y2="321.40" stroke="#222" stroke-width="0.7"/>
<line x1="84.40" y1="320.80" x2="85.80" y2="320.80" stroke="#222" stroke-width="0.6"/>
<text x="83.4" y="322.80" font-size="5.4" text-anchor="end" stroke="#1c1c1c" stroke-width="0.2">10<tspan font-size="3.4" dy="-2.2">-1</tspan></text>
<line x1="84.40" y1="311.85" x2="85.80" y2="311.85" stroke="#222" stroke-width="0.6"/>
<text x="83.4" y="313.85" font-size="5.4" text-anchor="end" stroke="#1c1c1c" stroke-width="0.2">10<tspan font-size="3.4" dy="-2.2">0</tspan></text>
<line x1="84.40" y1="302.90" x2="85.80" y2="302.90" stroke="#222" stroke-width="0.6"/>
<text x="83.4" y="304.90" font-size="5.4" text-anchor="end" stroke="#1c1c1c" stroke-width="0.2">10<tspan font-size="3.4" dy="-2.2">1</tspan></text>
<line x1="84.40" y1="293.95" x2="85.80" y2="293.95" stroke="#222" stroke-width="0.6"/>
<text x="83.4" y="295.95" font-size="5.4" text-anchor="end" stroke="#1c1c1c" stroke-width="0.2">10<tspan font-size="3.4" dy="-2.2">2</tspan></text>
<line x1="84.40" y1="285.00" x2="85.80" y2="285.00" stroke="#222" stroke-width="0.6"/>
<text x="83.4" y="287.00" font-size="5.4" text-anchor="end" stroke="#1c1c1c" stroke-width="0.2">10<tspan font-size="3.4" dy="-2.2">3</tspan></text>
<line x1="84.40" y1="276.05" x2="85.80" y2="276.05" stroke="#222" stroke-width="0.6"/>
<text x="83.4" y="278.05" font-size="5.4" text-anchor="end" stroke="#1c1c1c" stroke-width="0.2">10<tspan font-size="3.4" dy="-2.2">4</tspan></text>
<line x1="84.40" y1="267.10" x2="85.80" y2="267.10" stroke="#222" stroke-width="0.6"/>
<text x="83.4" y="269.10" font-size="5.4" text-anchor="end" stroke="#1c1c1c" stroke-width="0.2">10<tspan font-size="3.4" dy="-2.2">5</tspan></text>
<line x1="84.40" y1="258.15" x2="85.80" y2="258.15" stroke="#222" stroke-width="0.6"/>
<text x="83.4" y="260.15" font-size="5.4" text-anchor="end" stroke="#1c1c1c" stroke-width="0.2">10<tspan font-size="3.4" dy="-2.2">6</tspan></text>
<line x1="84.40" y1="249.20" x2="85.80" y2="249.20" stroke="#222" stroke-width="0.6"/>
<text x="83.4" y="251.20" font-size="5.4" text-anchor="end" stroke="#1c1c1c" stroke-width="0.2">10<tspan font-size="3.4" dy="-2.2">7</tspan></text>
<line x1="86.50" y1="321.40" x2="86.50" y2="322.90" stroke="#222" stroke-width="0.6"/>
<text x="86.50" y="328.00" font-size="5.6" stroke="#1c1c1c" stroke-width="0.2" text-anchor="middle">0</text>
<line x1="99.60" y1="321.40" x2="99.60" y2="322.90" stroke="#222" stroke-width="0.6"/>
<text x="99.60" y="328.00" font-size="5.6" stroke="#1c1c1c" stroke-width="0.2" text-anchor="middle">7</text>
<line x1="112.69" y1="321.40" x2="112.69" y2="322.90" stroke="#222" stroke-width="0.6"/>
<text x="112.69" y="328.00" font-size="5.6" stroke="#1c1c1c" stroke-width="0.2" text-anchor="middle">14</text>
<line x1="125.79" y1="321.40" x2="125.79" y2="322.90" stroke="#222" stroke-width="0.6"/>
<text x="125.79" y="328.00" font-size="5.6" stroke="#1c1c1c" stroke-width="0.2" text-anchor="middle">21</text>
<line x1="138.89" y1="321.40" x2="138.89" y2="322.90" stroke="#222" stroke-width="0.6"/>
<text x="138.89" y="328.00" font-size="5.6" stroke="#1c1c1c" stroke-width="0.2" text-anchor="middle">28</text>
<line x1="151.99" y1="321.40" x2="151.99" y2="322.90" stroke="#222" stroke-width="0.6"/>
<text x="151.99" y="328.00" font-size="5.6" stroke="#1c1c1c" stroke-width="0.2" text-anchor="middle">35</text>
<line x1="165.08" y1="321.40" x2="165.08" y2="322.90" stroke="#222" stroke-width="0.6"/>
<text x="165.08" y="328.00" font-size="5.6" stroke="#1c1c1c" stroke-width="0.2" text-anchor="middle">42</text>
<line x1="178.18" y1="321.40" x2="178.18" y2="322.90" stroke="#222" stroke-width="0.6"/>
<text x="178.18" y="328.00" font-size="5.6" stroke="#1c1c1c" stroke-width="0.2" text-anchor="middle">49</text>
<text x="72.20" y="285.20" font-size="5.2" stroke="#1c1c1c" stroke-width="0.2" text-anchor="middle" transform="rotate(-90 72.20 285.20)">Concentration (ng/mL)</text>
<text x="102.70" y="336.00" font-size="5.4" stroke="#1c1c1c" stroke-width="0.2">Time after 1st dosing (d)</text>
<polyline points="86.57,256.81 87.06,258.15 88.37,259.05 92.11,261.01 99.60,263.07 112.69,266.65 125.79,270.68" fill="none" stroke="#e8383a" stroke-width="0.55"/>
<circle cx="86.57" cy="256.81" r="0.90" fill="#e8383a"/>
<circle cx="87.06" cy="258.15" r="0.90" fill="#e8383a"/>
<circle cx="88.37" cy="259.05" r="0.90" fill="#e8383a"/>
<circle cx="92.11" cy="261.01" r="0.90" fill="#e8383a"/>
<circle cx="99.60" cy="263.07" r="0.90" fill="#e8383a"/>
<circle cx="112.69" cy="266.65" r="0.90" fill="#e8383a"/>
<circle cx="125.79" cy="270.68" r="0.90" fill="#e8383a"/>
<polyline points="125.87,256.81 126.35,258.15 127.66,259.05 131.40,260.66 138.89,262.62 151.99,266.21 165.08,271.13" fill="none" stroke="#e8383a" stroke-width="0.55"/>
<circle cx="125.87" cy="256.81" r="0.90" fill="#e8383a"/>
<circle cx="126.35" cy="258.15" r="0.90" fill="#e8383a"/>
<circle cx="127.66" cy="259.05" r="0.90" fill="#e8383a"/>
<circle cx="131.40" cy="260.66" r="0.90" fill="#e8383a"/>
<circle cx="138.89" cy="262.62" r="0.90" fill="#e8383a"/>
<circle cx="151.99" cy="266.21" r="0.90" fill="#e8383a"/>
<circle cx="165.08" cy="271.13" r="0.90" fill="#e8383a"/>
<polyline points="86.57,257.25 87.06,258.60 88.37,259.49 92.11,261.73 99.60,263.70 112.69,267.28 125.79,271.58" fill="none" stroke="#f07080" stroke-width="0.55"/>
<circle cx="86.57" cy="257.25" r="0.90" fill="#f07080"/>
<circle cx="87.06" cy="258.60" r="0.90" fill="#f07080"/>
<circle cx="88.37" cy="259.49" r="0.90" fill="#f07080"/>
<circle cx="92.11" cy="261.73" r="0.90" fill="#f07080"/>
<circle cx="99.60" cy="263.70" r="0.90" fill="#f07080"/>
<circle cx="112.69" cy="267.28" r="0.90" fill="#f07080"/>
<circle cx="125.79" cy="271.58" r="0.90" fill="#f07080"/>
<polyline points="125.87,257.25 126.35,258.60 127.66,259.49 131.40,261.28 138.89,263.34 151.99,267.10 165.08,272.02" fill="none" stroke="#f07080" stroke-width="0.55"/>
<circle cx="125.87" cy="257.25" r="0.90" fill="#f07080"/>
<circle cx="126.35" cy="258.60" r="0.90" fill="#f07080"/>
<circle cx="127.66" cy="259.49" r="0.90" fill="#f07080"/>
<circle cx="131.40" cy="261.28" r="0.90" fill="#f07080"/>
<circle cx="138.89" cy="263.34" r="0.90" fill="#f07080"/>
<circle cx="151.99" cy="267.10" r="0.90" fill="#f07080"/>
<circle cx="165.08" cy="272.02" r="0.90" fill="#f07080"/>
<polyline points="86.57,257.70 87.06,259.05 88.37,259.94 92.11,261.55 99.60,263.52 112.69,267.10 125.79,271.58" fill="none" stroke="#2233cc" stroke-width="0.55"/>
<circle cx="86.57" cy="257.70" r="0.90" fill="#2233cc"/>
<circle cx="87.06" cy="259.05" r="0.90" fill="#2233cc"/>
<circle cx="88.37" cy="259.94" r="0.90" fill="#2233cc"/>
<circle cx="92.11" cy="261.55" r="0.90" fill="#2233cc"/>
<circle cx="99.60" cy="263.52" r="0.90" fill="#2233cc"/>
<circle cx="112.69" cy="267.10" r="0.90" fill="#2233cc"/>
<circle cx="125.79" cy="271.58" r="0.90" fill="#2233cc"/>
<polyline points="125.87,257.70 126.35,259.05 127.66,259.94 131.40,261.19 138.89,263.16 151.99,267.10 165.08,272.02" fill="none" stroke="#2233cc" stroke-width="0.55"/>
<circle cx="125.87" cy="257.70" r="0.90" fill="#2233cc"/>
<circle cx="126.35" cy="259.05" r="0.90" fill="#2233cc"/>
<circle cx="127.66" cy="259.94" r="0.90" fill="#2233cc"/>
<circle cx="131.40" cy="261.19" r="0.90" fill="#2233cc"/>
<circle cx="138.89" cy="263.16" r="0.90" fill="#2233cc"/>
<circle cx="151.99" cy="267.10" r="0.90" fill="#2233cc"/>
<circle cx="165.08" cy="272.02" r="0.90" fill="#2233cc"/>
<polyline points="86.57,258.60 87.06,259.94 88.37,260.84 92.11,263.07 99.60,265.31 112.69,268.89 125.79,272.92" fill="none" stroke="#5588ee" stroke-width="0.55"/>
<circle cx="86.57" cy="258.60" r="0.90" fill="#5588ee"/>
<circle cx="87.06" cy="259.94" r="0.90" fill="#5588ee"/>
<circle cx="88.37" cy="260.84" r="0.90" fill="#5588ee"/>
<circle cx="92.11" cy="263.07" r="0.90" fill="#5588ee"/>
<circle cx="99.60" cy="265.31" r="0.90" fill="#5588ee"/>
<circle cx="112.69" cy="268.89" r="0.90" fill="#5588ee"/>
<circle cx="125.79" cy="272.92" r="0.90" fill="#5588ee"/>
<polyline points="125.87,258.60 126.35,259.94 127.66,260.84 131.40,262.62 138.89,264.86 151.99,268.44 165.08,273.37" fill="none" stroke="#5588ee" stroke-width="0.55"/>
<circle cx="125.87" cy="258.60" r="0.90" fill="#5588ee"/>
<circle cx="126.35" cy="259.94" r="0.90" fill="#5588ee"/>
<circle cx="127.66" cy="260.84" r="0.90" fill="#5588ee"/>
<circle cx="131.40" cy="262.62" r="0.90" fill="#5588ee"/>
<circle cx="138.89" cy="264.86" r="0.90" fill="#5588ee"/>
<circle cx="151.99" cy="268.44" r="0.90" fill="#5588ee"/>
<circle cx="165.08" cy="273.37" r="0.90" fill="#5588ee"/>
<line x1="92.11" y1="259.55" x2="92.11" y2="263.55" stroke="#1a1a9a" stroke-width="0.8"/>
<rect x="91.21" y="260.65" width="1.80" height="1.80" fill="#1a1a9a"/>
<line x1="99.60" y1="261.52" x2="99.60" y2="265.52" stroke="#1a1a9a" stroke-width="0.8"/>
<rect x="98.70" y="262.62" width="1.80" height="1.80" fill="#1a1a9a"/>
<line x1="112.69" y1="265.10" x2="112.69" y2="269.10" stroke="#1a1a9a" stroke-width="0.8"/>
<rect x="111.79" y="266.20" width="1.80" height="1.80" fill="#1a1a9a"/>
<line x1="125.79" y1="269.58" x2="125.79" y2="273.58" stroke="#1a1a9a" stroke-width="0.8"/>
<rect x="124.89" y="270.68" width="1.80" height="1.80" fill="#1a1a9a"/>
<line x1="131.40" y1="259.19" x2="131.40" y2="263.19" stroke="#1a1a9a" stroke-width="0.8"/>
<rect x="130.50" y="260.29" width="1.80" height="1.80" fill="#1a1a9a"/>
<line x1="138.89" y1="261.16" x2="138.89" y2="265.16" stroke="#1a1a9a" stroke-width="0.8"/>
<rect x="137.99" y="262.26" width="1.80" height="1.80" fill="#1a1a9a"/>
<line x1="151.99" y1="265.10" x2="151.99" y2="269.10" stroke="#1a1a9a" stroke-width="0.8"/>
<rect x="151.09" y="266.20" width="1.80" height="1.80" fill="#1a1a9a"/>
<line x1="165.08" y1="270.02" x2="165.08" y2="274.02" stroke="#1a1a9a" stroke-width="0.8"/>
<rect x="164.18" y="271.12" width="1.80" height="1.80" fill="#1a1a9a"/>
<polyline points="86.57,308.72 87.06,307.38 88.37,306.93 92.11,306.93 99.60,310.78 112.69,314.98 125.79,319.28" fill="none" stroke="#e8383a" stroke-width="0.55"/>
<circle cx="86.57" cy="308.72" r="0.90" fill="#e8383a"/>
<circle cx="87.06" cy="307.38" r="0.90" fill="#e8383a"/>
<circle cx="88.37" cy="306.93" r="0.90" fill="#e8383a"/>
<circle cx="92.11" cy="306.93" r="0.90" fill="#e8383a"/>
<circle cx="99.60" cy="310.78" r="0.90" fill="#e8383a"/>
<circle cx="112.69" cy="314.98" r="0.90" fill="#e8383a"/>
<circle cx="125.79" cy="319.28" r="0.90" fill="#e8383a"/>
<polyline points="125.87,308.72 126.35,307.38 127.66,306.93 131.40,306.93 138.89,310.78 151.99,314.98 165.08,319.28" fill="none" stroke="#e8383a" stroke-width="0.55"/>
<circle cx="125.87" cy="308.72" r="0.90" fill="#e8383a"/>
<circle cx="126.35" cy="307.38" r="0.90" fill="#e8383a"/>
<circle cx="127.66" cy="306.93" r="0.90" fill="#e8383a"/>
<circle cx="131.40" cy="306.93" r="0.90" fill="#e8383a"/>
<circle cx="138.89" cy="310.78" r="0.90" fill="#e8383a"/>
<circle cx="151.99" cy="314.98" r="0.90" fill="#e8383a"/>
<circle cx="165.08" cy="319.28" r="0.90" fill="#e8383a"/>
<polyline points="86.57,309.17 87.06,307.82 88.37,307.38 92.11,307.38 99.60,311.22 112.69,315.43 125.79,319.73" fill="none" stroke="#2a2ad0" stroke-width="0.55"/>
<circle cx="86.57" cy="309.17" r="0.90" fill="#2a2ad0"/>
<circle cx="87.06" cy="307.82" r="0.90" fill="#2a2ad0"/>
<circle cx="88.37" cy="307.38" r="0.90" fill="#2a2ad0"/>
<circle cx="92.11" cy="307.38" r="0.90" fill="#2a2ad0"/>
<circle cx="99.60" cy="311.22" r="0.90" fill="#2a2ad0"/>
<circle cx="112.69" cy="315.43" r="0.90" fill="#2a2ad0"/>
<circle cx="125.79" cy="319.73" r="0.90" fill="#2a2ad0"/>
<polyline points="125.87,309.17 126.35,307.82 127.66,307.38 131.40,307.38 138.89,311.22 151.99,315.43 165.08,319.73" fill="none" stroke="#2a2ad0" stroke-width="0.55"/>
<circle cx="125.87" cy="309.17" r="0.90" fill="#2a2ad0"/>
<circle cx="126.35" cy="307.82" r="0.90" fill="#2a2ad0"/>
<circle cx="127.66" cy="307.38" r="0.90" fill="#2a2ad0"/>
<circle cx="131.40" cy="307.38" r="0.90" fill="#2a2ad0"/>
<circle cx="138.89" cy="311.22" r="0.90" fill="#2a2ad0"/>
<circle cx="151.99" cy="315.43" r="0.90" fill="#2a2ad0"/>
<circle cx="165.08" cy="319.73" r="0.90" fill="#2a2ad0"/>
<line x1="86.80" y1="255.91" x2="86.80" y2="259.94" stroke="#2a2ad0" stroke-width="1.2"/>
<line x1="87.60" y1="306.48" x2="87.60" y2="311.85" stroke="#2a2ad0" stroke-width="1.4"/>
<line x1="86.80" y1="306.48" x2="86.80" y2="312.75" stroke="#2a2ad0" stroke-width="1.2"/>
<line x1="126.09" y1="255.91" x2="126.09" y2="259.94" stroke="#2a2ad0" stroke-width="1.2"/>
<line x1="126.89" y1="306.48" x2="126.89" y2="311.85" stroke="#2a2ad0" stroke-width="1.4"/>
<line x1="126.09" y1="306.48" x2="126.09" y2="312.75" stroke="#2a2ad0" stroke-width="1.2"/>
<line x1="165.08" y1="254.57" x2="165.08" y2="259.94" stroke="#a03090" stroke-width="0.9"/>
<line x1="165.08" y1="305.59" x2="165.08" y2="312.75" stroke="#a03090" stroke-width="0.9"/>
<circle cx="165.08" cy="257.25" r="0.90" fill="#a03090"/>
<circle cx="165.08" cy="309.17" r="0.90" fill="#a03090"/>
<text x="170.00" y="267.30" font-size="4.6" stroke="#1c1c1c" stroke-width="0.2">45 mg/kg</text>
<circle cx="172.40" cy="269.70" r="0.85" fill="#2233cc"/>
<text x="175.60" y="271.30" font-size="4.6" stroke="#1c1c1c" stroke-width="0.2">Total antibody</text>
<circle cx="172.40" cy="274.40" r="0.85" fill="#5588ee"/>
<text x="175.60" y="276.00" font-size="4.6" stroke="#1c1c1c" stroke-width="0.2">ADC</text>
<circle cx="172.40" cy="279.10" r="0.85" fill="#2a2ad0"/>
<text x="175.60" y="280.70" font-size="4.6" stroke="#1c1c1c" stroke-width="0.2">Free payload</text>
<text x="170.00" y="290.00" font-size="4.6" stroke="#1c1c1c" stroke-width="0.2">60 mg/kg</text>
<circle cx="172.40" cy="292.60" r="0.85" fill="#e8383a"/>
<text x="175.60" y="294.20" font-size="4.6" stroke="#1c1c1c" stroke-width="0.2">Total antibody</text>
<circle cx="172.40" cy="297.20" r="0.85" fill="#f07080"/>
<text x="175.60" y="298.80" font-size="4.6" stroke="#1c1c1c" stroke-width="0.2">ADC</text>
<circle cx="172.40" cy="301.80" r="0.85" fill="#e8383a"/>
<text x="175.60" y="303.40" font-size="4.6" stroke="#1c1c1c" stroke-width="0.2">Free payload</text>
<text x="212.80" y="242.60" font-size="13.2" stroke="#000" stroke-width="0.2" fill="#000" font-weight="bold">F</text>
<text x="225.2" y="242.0" font-size="5.6" font-style="italic" stroke="#1c1c1c" stroke-width="0.2"><tspan>T</tspan><tspan font-size="3.6" dy="1.6">1/2</tspan><tspan dy="-1.6"> in monkey</tspan></text>
<line x1="239.20" y1="250.50" x2="239.20" y2="324.60" stroke="#222" stroke-width="0.7"/>
<line x1="239.20" y1="324.60" x2="320.50" y2="324.60" stroke="#222" stroke-width="0.7"/>
<line x1="237.80" y1="324.40" x2="239.20" y2="324.40" stroke="#222" stroke-width="0.6"/>
<text x="237.00" y="326.40" font-size="5.6" stroke="#1c1c1c" stroke-width="0.2" text-anchor="end">0</text>
<line x1="237.80" y1="299.85" x2="239.20" y2="299.85" stroke="#222" stroke-width="0.6"/>
<text x="237.00" y="301.85" font-size="5.6" stroke="#1c1c1c" stroke-width="0.2" text-anchor="end">50</text>
<line x1="237.80" y1="275.30" x2="239.20" y2="275.30" stroke="#222" stroke-width="0.6"/>
<text x="237.00" y="277.30" font-size="5.6" stroke="#1c1c1c" stroke-width="0.2" text-anchor="end">100</text>
<line x1="237.80" y1="250.75" x2="239.20" y2="250.75" stroke="#222" stroke-width="0.6"/>
<text x="237.00" y="252.75" font-size="5.6" stroke="#1c1c1c" stroke-width="0.2" text-anchor="end">150</text>
<line x1="256.50" y1="324.60" x2="256.50" y2="326.00" stroke="#222" stroke-width="0.6"/>
<line x1="296.50" y1="324.60" x2="296.50" y2="326.00" stroke="#222" stroke-width="0.6"/>
<text x="226.40" y="286.00" font-size="5.6" stroke="#1c1c1c" stroke-width="0.2" text-anchor="middle" transform="rotate(-90 226.40 286.00)">Hours</text>
<rect x="244.90" y="311.14" width="9.10" height="13.26" fill="#1010e8"/>
<line x1="249.45" y1="311.14" x2="249.45" y2="310.85" stroke="#1010e8" stroke-width="0.7"/>
<line x1="247.85" y1="310.85" x2="251.05" y2="310.85" stroke="#1010e8" stroke-width="0.7"/>
<rect x="259.00" y="273.34" width="9.20" height="51.06" fill="#ee1111"/>
<line x1="263.60" y1="273.34" x2="263.60" y2="270.14" stroke="#ee1111" stroke-width="0.7"/>
<line x1="262.00" y1="270.14" x2="265.20" y2="270.14" stroke="#ee1111" stroke-width="0.7"/>
<rect x="282.00" y="312.62" width="9.40" height="11.78" fill="#1010e8"/>
<line x1="286.70" y1="312.62" x2="286.70" y2="312.37" stroke="#1010e8" stroke-width="0.7"/>
<line x1="285.10" y1="312.37" x2="288.30" y2="312.37" stroke="#1010e8" stroke-width="0.7"/>
<rect x="296.60" y="274.81" width="9.20" height="49.59" fill="#ee1111"/>
<line x1="301.20" y1="274.81" x2="301.20" y2="272.60" stroke="#ee1111" stroke-width="0.7"/>
<line x1="299.60" y1="272.60" x2="302.80" y2="272.60" stroke="#ee1111" stroke-width="0.7"/>
<text x="256.40" y="331.60" font-size="5.6" stroke="#1c1c1c" stroke-width="0.2" text-anchor="middle">Total antibody</text>
<text x="296.20" y="331.60" font-size="5.6" stroke="#1c1c1c" stroke-width="0.2" text-anchor="middle">ADC</text>
<rect x="265.60" y="246.40" width="7.40" height="3.20" fill="#1010e8"/>
<text x="275.00" y="250.00" font-size="5.35" stroke="#1c1c1c" stroke-width="0.2">AMT-253-M (6 mg/kg)</text>
<rect x="265.60" y="255.50" width="7.40" height="3.20" fill="#ee1111"/>
<text x="275.00" y="259.30" font-size="5.35" stroke="#1c1c1c" stroke-width="0.2">AMT-253 (60 mg/kg)</text>
<text x="151.60" y="355.80" font-size="13.2" stroke="#000" stroke-width="0.2" fill="#000" font-weight="bold">G</text>
<text x="172.30" y="354.20" font-size="4.8" stroke="#1c1c1c" stroke-width="0.2">Therapeutic index</text>
<line x1="183.50" y1="361.80" x2="183.50" y2="428.50" stroke="#222" stroke-width="0.7"/>
<line x1="183.50" y1="428.50" x2="250.30" y2="428.50" stroke="#222" stroke-width="0.7"/>
<line x1="182.10" y1="428.30" x2="183.50" y2="428.30" stroke="#222" stroke-width="0.6"/>
<text x="181.30" y="430.30" font-size="5.4" stroke="#1c1c1c" stroke-width="0.2" text-anchor="end">0</text>
<line x1="182.10" y1="406.30" x2="183.50" y2="406.30" stroke="#222" stroke-width="0.6"/>
<text x="181.30" y="408.30" font-size="5.4" stroke="#1c1c1c" stroke-width="0.2" text-anchor="end">50</text>
<line x1="182.10" y1="384.30" x2="183.50" y2="384.30" stroke="#222" stroke-width="0.6"/>
<text x="181.30" y="386.30" font-size="5.4" stroke="#1c1c1c" stroke-width="0.2" text-anchor="end">100</text>
<line x1="182.10" y1="362.30" x2="183.50" y2="362.30" stroke="#222" stroke-width="0.6"/>
<text x="181.30" y="364.30" font-size="5.4" stroke="#1c1c1c" stroke-width="0.2" text-anchor="end">150</text>
<line x1="198.00" y1="428.50" x2="198.00" y2="430.00" stroke="#222" stroke-width="0.6"/>
<line x1="232.40" y1="428.50" x2="232.40" y2="430.00" stroke="#222" stroke-width="0.6"/>
<text x="168.00" y="395.00" font-size="6.2" stroke="#1c1c1c" stroke-width="0.2" text-anchor="middle" transform="rotate(-90 168.00 395.00)">Therapeutic index</text>
<text x="198.00" y="436.20" font-size="5.4" stroke="#1c1c1c" stroke-width="0.2" text-anchor="middle">HNSTD/MED</text>
<text x="232.40" y="436.20" font-size="5.4" stroke="#1c1c1c" stroke-width="0.2" text-anchor="middle">AUC ratio</text>
<circle cx="189.80" cy="426.30" r="2.00" fill="#ee2222"/>
<circle cx="195.40" cy="425.00" r="2.00" fill="#ee2222"/>
<circle cx="205.90" cy="386.00" r="2.00" fill="#2233dd"/>
<circle cx="205.90" cy="417.50" r="2.00" fill="#2233dd"/>
<line x1="201.60" y1="401.50" x2="210.40" y2="401.50" stroke="#8080e0" stroke-width="1.0"/>
<circle cx="227.50" cy="427.60" r="1.90" fill="#ee2222"/>
<line x1="237.50" y1="419.30" x2="245.80" y2="419.30" stroke="#2233dd" stroke-width="0.7"/>
<circle cx="240.90" cy="419.30" r="1.90" fill="#2233dd"/>
<circle cx="227.50" cy="356.00" r="1.90" fill="#ee2222"/>
<text x="234.60" y="358.00" font-size="5.0" stroke="#1c1c1c" stroke-width="0.2">AMT-253-M</text>
<circle cx="227.50" cy="362.40" r="1.90" fill="#2233dd"/>
<text x="234.60" y="364.40" font-size="5.0" stroke="#1c1c1c" stroke-width="0.2">AMT-253</text></svg>
</body></html>
